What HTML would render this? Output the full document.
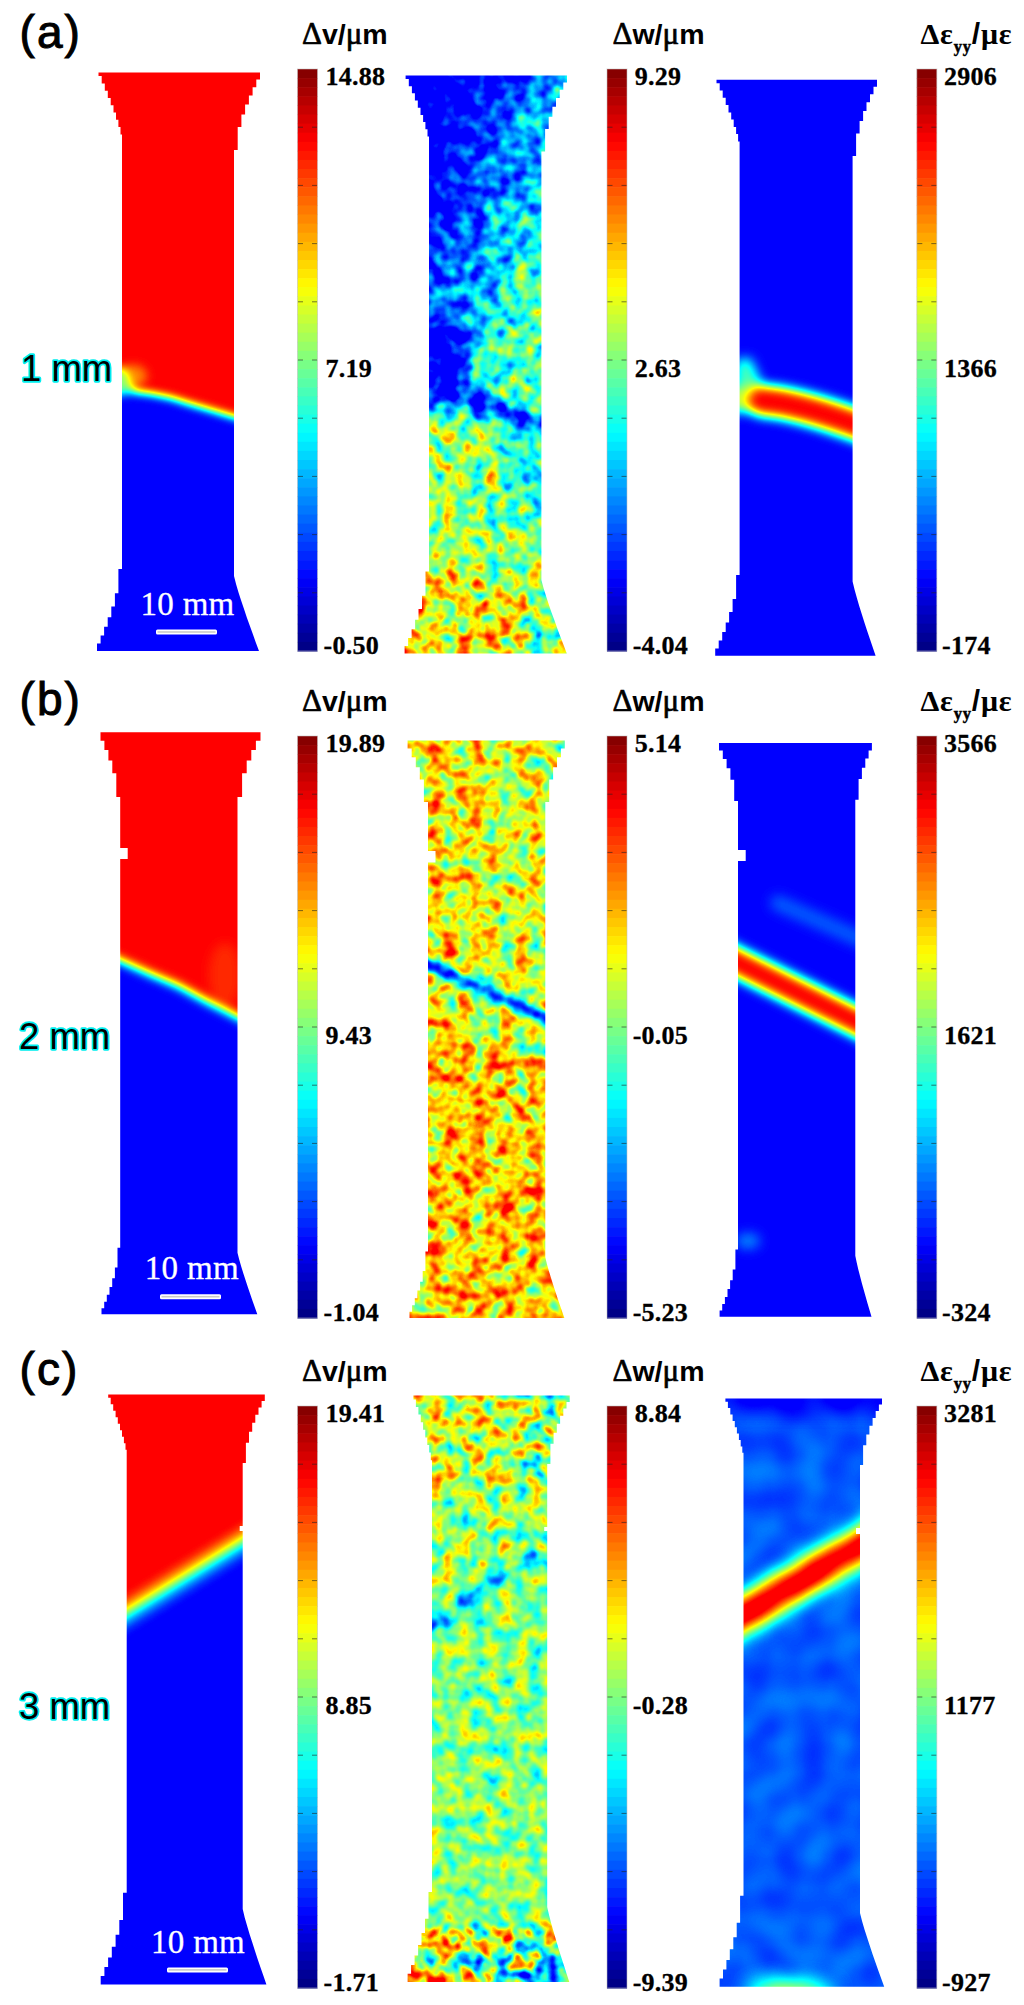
<!DOCTYPE html>
<html lang="en"><head><meta charset="utf-8"><title>Figure</title><style>
html,body{margin:0;padding:0;background:#fff}
svg{display:block}
text{white-space:pre}
.num{font-family:'Liberation Serif',serif;font-weight:bold;font-size:26px;fill:#000;stroke:#000;stroke-width:.3px;letter-spacing:.25px}
.ttl{font-family:'Liberation Sans',sans-serif;font-weight:bold;font-size:28.5px;fill:#000}
.sym{font-family:'Liberation Serif',serif;font-weight:normal;font-size:31px;stroke:#000;stroke-width:.7px}
.tts{font-family:'Liberation Serif',serif;font-weight:bold;font-size:30px;fill:#000;letter-spacing:.8px}
.sub{font-size:16.5px;stroke:#000;stroke-width:.5px}
.sl{font-family:'Liberation Sans',sans-serif}
.pl{font-family:'Liberation Sans',sans-serif;font-size:46px;fill:#000;stroke:#000;stroke-width:1.0px;letter-spacing:2.1px}
.mm{font-family:'Liberation Sans',sans-serif;font-size:36.5px;fill:#000}
.mmg{font-family:'Liberation Sans',sans-serif;font-size:36.5px;fill:#00eeee;stroke:#00eeee;stroke-width:3.4px;stroke-linejoin:round;filter:url(#glow)}
.sb{font-family:'Liberation Serif',serif;font-size:33px;fill:#fff;stroke:#fff;stroke-width:.3px;letter-spacing:.3px}
</style></head>
<body>
<svg width="1024" height="2005" viewBox="0 0 1024 2005">
<rect width="1024" height="2005" fill="#fff"/>
<defs>
<clipPath id="ca1"><polygon points="260,72.5 260,79.6 256.3,79.6 256.3,87.2 252.6,87.2 252.6,95.4 248.9,95.4 248.9,104.4 245.1,104.4 245.1,114.6 241.4,114.6 241.4,127 237.7,127 237.7,150 234,150 234,576 236.1,584.3 238.6,592.7 241.3,601 244.1,609.3 246.9,617.7 249.9,626 252.9,634.3 255.9,642.7 259,651 97,651 97,643.5 100.6,643.5 100.6,635.4 104.1,635.4 104.1,626.8 107.7,626.8 107.7,617.3 111.3,617.3 111.3,606.5 114.9,606.5 114.9,593.3 118.4,593.3 118.4,569 122,569 122,138 122,134.4 120.5,134.4 120.5,130.7 120.5,127.1 118.4,127.1 118.4,123.4 118.4,119.8 116,119.8 116,116.2 116,112.5 113.5,112.5 113.5,108.9 113.5,105.2 110.7,105.2 110.7,101.6 110.7,98 107.8,98 107.8,94.3 107.8,90.7 104.8,90.7 104.8,87.1 104.8,83.4 101.7,83.4 101.7,79.8 101.7,76.1 98.5,76.1 98.5,72.5"/></clipPath>
<filter id="fa1" filterUnits="userSpaceOnUse" x="57" y="32.5" width="243" height="658.5" color-interpolation-filters="sRGB"><feGaussianBlur in="SourceGraphic" stdDeviation="4.8" result="b"/><feComponentTransfer in="b"><feFuncR type="table" tableValues="0 0 0 0 .5 1 1 1 1"/><feFuncG type="table" tableValues="0 0 .5 1 1 1 .5 0 0"/><feFuncB type="table" tableValues="1 1 1 1 .5 0 0 0 0"/></feComponentTransfer></filter>
<linearGradient id="ga2" gradientUnits="userSpaceOnUse" x1="445" y1="100" x2="602.4" y2="163"><stop offset="0" stop-color="rgb(10,128,0)"/><stop offset="1" stop-color="rgb(125,217,0)"/></linearGradient>
<clipPath id="ca2"><polygon points="567,75.4 567,82.4 563.3,82.4 563.3,89.8 559.7,89.8 559.7,97.9 556,97.9 556,106.7 552.4,106.7 552.4,116.7 548.7,116.7 548.7,128.9 545.1,128.9 545.1,151.5 541.4,151.5 541.4,580 543.6,588.2 546.1,596.3 548.8,604.5 551.6,612.7 554.6,620.8 557.5,629 560.6,637.2 563.7,645.3 566.8,653.5 404.6,653.5 404.6,646 408.1,646 408.1,637.9 411.6,637.9 411.6,629.3 415.1,629.3 415.1,619.7 418.5,619.7 418.5,608.9 422,608.9 422,595.7 425.5,595.7 425.5,571.4 429,571.4 429,140 429,136.4 427.5,136.4 427.5,132.8 427.5,129.2 425.4,129.2 425.4,125.6 425.4,122.1 423.1,122.1 423.1,118.5 423.1,114.9 420.5,114.9 420.5,111.3 420.5,107.7 417.8,107.7 417.8,104.1 417.8,100.5 414.9,100.5 414.9,96.9 414.9,93.3 411.9,93.3 411.9,89.8 411.9,86.2 408.8,86.2 408.8,82.6 408.8,79 405.6,79 405.6,75.4"/></clipPath>
<filter id="fa2" filterUnits="userSpaceOnUse" x="364.6" y="35.4" width="242.4" height="658.1" color-interpolation-filters="sRGB"><feGaussianBlur in="SourceGraphic" stdDeviation="8" result="b"/><feColorMatrix in="b" type="matrix" values="1 0 0 0 0 1 0 0 0 0 1 0 0 0 0 0 0 0 0 1" result="bv"/><feColorMatrix in="b" type="matrix" values="0 1 0 0 0 0 1 0 0 0 0 1 0 0 0 0 0 0 0 1" result="ba"/><feTurbulence type="fractalNoise" baseFrequency="0.07" numOctaves="2" seed="3" result="t"/><feColorMatrix in="t" type="matrix" values="1 0 0 0 0 1 0 0 0 0 1 0 0 0 0 0 0 0 0 1" result="n"/><feComposite in="ba" in2="n" operator="arithmetic" k1="1" k2="-0.5" k3="0" k4="0.5" result="na"/><feComposite in="bv" in2="na" operator="arithmetic" k1="0" k2="1" k3="0.9" k4="-0.45" result="m"/><feComponentTransfer in="m"><feFuncR type="table" tableValues="0 0 0 0 .5 1 1 1 1"/><feFuncG type="table" tableValues="0 0 .5 1 1 1 .5 0 0"/><feFuncB type="table" tableValues="1 1 1 1 .5 0 0 0 0"/></feComponentTransfer></filter>
<clipPath id="ca3"><polygon points="877,79.7 877,86.7 873.5,86.7 873.5,94.2 870,94.2 870,102.2 866.5,102.2 866.5,111.1 863.1,111.1 863.1,121.1 859.6,121.1 859.6,133.4 856.1,133.4 856.1,156 852.6,156 852.6,581.4 854.6,589.7 856.9,597.9 859.3,606.2 861.9,614.5 864.5,622.7 867.2,631 870,639.3 872.8,647.5 875.6,655.8 715.2,655.8 715.2,648.4 718.7,648.4 718.7,640.5 722.2,640.5 722.2,632 725.7,632 725.7,622.6 729.1,622.6 729.1,611.9 732.6,611.9 732.6,598.9 736.1,598.9 736.1,575 739.6,575 739.6,145 739.6,141.4 738.1,141.4 738.1,137.7 738.1,134.1 736.1,134.1 736.1,130.5 736.1,126.9 733.7,126.9 733.7,123.2 733.7,119.6 731.2,119.6 731.2,116 731.2,112.4 728.5,112.4 728.5,108.7 728.5,105.1 725.7,105.1 725.7,101.5 725.7,97.8 722.7,97.8 722.7,94.2 722.7,90.6 719.7,90.6 719.7,87 719.7,83.3 716.5,83.3 716.5,79.7"/></clipPath>
<filter id="fa3" filterUnits="userSpaceOnUse" x="675.2" y="39.7" width="241.8" height="656.1" color-interpolation-filters="sRGB"><feGaussianBlur in="SourceGraphic" stdDeviation="5.6" result="b"/><feComponentTransfer in="b"><feFuncR type="table" tableValues="0 0 0 0 .5 1 1 1 1"/><feFuncG type="table" tableValues="0 0 .5 1 1 1 .5 0 0"/><feFuncB type="table" tableValues="1 1 1 1 .5 0 0 0 0"/></feComponentTransfer></filter>
<clipPath id="cb1"><polygon points="260.5,732.3 260.5,740.7 255.9,740.7 255.9,750 251.3,750 251.3,760.5 246.7,760.5 246.7,773.3 242.1,773.3 242.1,797 237.5,797 237.5,1252.7 239.2,1259.5 241.2,1266.4 243.3,1273.2 245.5,1280.1 247.8,1286.9 250.1,1293.8 252.4,1300.6 254.9,1307.5 257.3,1314.3 101.5,1314.3 101.5,1308.2 104.2,1308.2 104.2,1301.7 106.8,1301.7 106.8,1294.7 109.5,1294.7 109.5,1287 112.2,1287 112.2,1278.2 114.9,1278.2 114.9,1267.5 117.5,1267.5 117.5,1247.8 120.2,1247.8 120.2,859 127.7,859 127.7,848 120.2,848 120.2,797 116.3,797 116.3,773.3 112.3,773.3 112.3,760.5 108.4,760.5 108.4,750 104.4,750 104.4,740.7 100.5,740.7 100.5,732.3"/></clipPath>
<filter id="fb1" filterUnits="userSpaceOnUse" x="60.5" y="692.3" width="240" height="662" color-interpolation-filters="sRGB"><feGaussianBlur in="SourceGraphic" stdDeviation="5.2" result="b"/><feComponentTransfer in="b"><feFuncR type="table" tableValues="0 0 0 0 .5 1 1 1 1"/><feFuncG type="table" tableValues="0 0 .5 1 1 1 .5 0 0"/><feFuncB type="table" tableValues="1 1 1 1 .5 0 0 0 0"/></feComponentTransfer></filter>
<clipPath id="cb2"><polygon points="564.8,740.5 564.8,748.5 560.9,748.5 560.9,757.3 557,757.3 557,767.3 553.1,767.3 553.1,779.5 549.2,779.5 549.2,802 545.3,802 545.3,1257.3 546.9,1264 548.8,1270.8 550.9,1277.5 553,1284.2 555.2,1291 557.4,1297.7 559.7,1304.4 562,1311.2 564.4,1317.9 409.5,1317.9 409.5,1311.8 412.1,1311.8 412.1,1305.3 414.8,1305.3 414.8,1298.3 417.4,1298.3 417.4,1290.6 420.1,1290.6 420.1,1281.8 422.7,1281.8 422.7,1271.1 425.4,1271.1 425.4,1251.4 428,1251.4 428,862.5 435.5,862.5 435.5,851 428,851 428,802 423.9,802 423.9,779.5 419.8,779.5 419.8,767.3 415.8,767.3 415.8,757.3 411.7,757.3 411.7,748.5 407.6,748.5 407.6,740.5"/></clipPath>
<filter id="fb2" filterUnits="userSpaceOnUse" x="367.6" y="700.5" width="237.2" height="657.4" color-interpolation-filters="sRGB"><feGaussianBlur in="SourceGraphic" stdDeviation="4" result="b"/><feColorMatrix in="b" type="matrix" values="1 0 0 0 0 1 0 0 0 0 1 0 0 0 0 0 0 0 0 1" result="bv"/><feColorMatrix in="b" type="matrix" values="0 1 0 0 0 0 1 0 0 0 0 1 0 0 0 0 0 0 0 1" result="ba"/><feTurbulence type="fractalNoise" baseFrequency="0.07" numOctaves="2" seed="11" result="t"/><feColorMatrix in="t" type="matrix" values="1 0 0 0 0 1 0 0 0 0 1 0 0 0 0 0 0 0 0 1" result="n"/><feComposite in="ba" in2="n" operator="arithmetic" k1="1" k2="-0.5" k3="0" k4="0.5" result="na"/><feComposite in="bv" in2="na" operator="arithmetic" k1="0" k2="1" k3="0.85" k4="-0.425" result="m"/><feComponentTransfer in="m"><feFuncR type="table" tableValues="0 0 0 0 .5 1 1 1 1"/><feFuncG type="table" tableValues="0 0 .5 1 1 1 .5 0 0"/><feFuncB type="table" tableValues="1 1 1 1 .5 0 0 0 0"/></feComponentTransfer></filter>
<clipPath id="cb3"><polygon points="871.9,743 871.9,750.4 868.6,750.4 868.6,758.5 865.3,758.5 865.3,767.7 861.9,767.7 861.9,779 858.6,779 858.6,799.7 855.3,799.7 855.3,1255.8 856.7,1262.6 858.3,1269.4 860,1276.1 861.8,1282.9 863.7,1289.7 865.6,1296.5 867.5,1303.2 869.5,1310 871.5,1316.8 719.6,1316.8 719.6,1310.6 722.2,1310.6 722.2,1304 724.9,1304 724.9,1296.9 727.5,1296.9 727.5,1289.1 730.1,1289.1 730.1,1280.2 732.7,1280.2 732.7,1269.4 735.4,1269.4 735.4,1249.4 738,1249.4 738,861 745.7,861 745.7,850 738,850 738,801 734.2,801 734.2,779.8 730.4,779.8 730.4,768.3 726.6,768.3 726.6,758.9 722.8,758.9 722.8,750.6 719,750.6 719,743"/></clipPath>
<filter id="fb3" filterUnits="userSpaceOnUse" x="679" y="703" width="232.9" height="653.8" color-interpolation-filters="sRGB"><feGaussianBlur in="SourceGraphic" stdDeviation="5.6" result="b"/><feComponentTransfer in="b"><feFuncR type="table" tableValues="0 0 0 0 .5 1 1 1 1"/><feFuncG type="table" tableValues="0 0 .5 1 1 1 .5 0 0"/><feFuncB type="table" tableValues="1 1 1 1 .5 0 0 0 0"/></feComponentTransfer></filter>
<linearGradient id="gc1" gradientUnits="userSpaceOnUse" x1="116.5" y1="1596.2" x2="137.5" y2="1630.2"><stop offset="0" stop-color="rgb(223,223,223)"/><stop offset="0.15" stop-color="rgb(212,212,212)"/><stop offset="0.3" stop-color="rgb(186,186,186)"/><stop offset="0.42" stop-color="rgb(153,153,153)"/><stop offset="0.5" stop-color="rgb(128,128,128)"/><stop offset="0.58" stop-color="rgb(102,102,102)"/><stop offset="0.7" stop-color="rgb(69,69,69)"/><stop offset="0.85" stop-color="rgb(43,43,43)"/><stop offset="1" stop-color="rgb(32,32,32)"/></linearGradient>
<clipPath id="cc1"><polygon points="264.8,1394.6 264.8,1400.9 261.6,1400.9 261.6,1407.6 258.5,1407.6 258.5,1414.8 255.3,1414.8 255.3,1422.7 252.2,1422.7 252.2,1431.7 249,1431.7 249,1442.7 245.9,1442.7 245.9,1463 242.7,1463 242.7,1526 239.7,1526 239.7,1531 242.7,1531 242.7,1909 244.7,1917.4 247.1,1925.8 249.6,1934.2 252.3,1942.6 255,1950.9 257.7,1959.3 260.6,1967.7 263.5,1976.1 266.4,1984.5 100.7,1984.5 100.7,1976.1 104.4,1976.1 104.4,1967.1 108.1,1967.1 108.1,1957.4 111.8,1957.4 111.8,1946.8 115.6,1946.8 115.6,1934.7 119.3,1934.7 119.3,1919.9 123,1919.9 123,1892.7 126.7,1892.7 126.7,1453 126.7,1449.8 125.5,1449.8 125.5,1446.5 125.5,1443.3 123.9,1443.3 123.9,1440 123.9,1436.8 122,1436.8 122,1433.5 122,1430.3 120,1430.3 120,1427 120,1423.8 117.8,1423.8 117.8,1420.6 117.8,1417.3 115.6,1417.3 115.6,1414.1 115.6,1410.8 113.2,1410.8 113.2,1407.6 113.2,1404.3 110.7,1404.3 110.7,1401.1 110.7,1397.8 108.2,1397.8 108.2,1394.6"/></clipPath>
<filter id="fc1" filterUnits="userSpaceOnUse" x="60.7" y="1354.6" width="245.7" height="669.9" color-interpolation-filters="sRGB"><feGaussianBlur in="SourceGraphic" stdDeviation="1.8" result="b"/><feComponentTransfer in="b"><feFuncR type="table" tableValues="0 0 0 0 .5 1 1 1 1"/><feFuncG type="table" tableValues="0 0 .5 1 1 1 .5 0 0"/><feFuncB type="table" tableValues="1 1 1 1 .5 0 0 0 0"/></feComponentTransfer></filter>
<clipPath id="cc2"><polygon points="569.7,1395.6 569.7,1401.9 566.5,1401.9 566.5,1408.6 563.3,1408.6 563.3,1415.8 560.1,1415.8 560.1,1423.7 556.8,1423.7 556.8,1432.7 553.6,1432.7 553.6,1443.7 550.4,1443.7 550.4,1464 547.2,1464 547.2,1527 544.2,1527 544.2,1531 547.2,1531 547.2,1907 549.1,1915.3 551.3,1923.7 553.7,1932 556.1,1940.3 558.6,1948.7 561.2,1957 563.9,1965.3 566.6,1973.7 569.3,1982 407.6,1982 407.6,1973.7 411.1,1973.7 411.1,1964.9 414.6,1964.9 414.6,1955.4 418.1,1955.4 418.1,1945 421.5,1945 421.5,1933.1 425,1933.1 425,1918.7 428.5,1918.7 428.5,1892 432,1892 432,1464 432,1460.2 430.8,1460.2 430.8,1456.4 430.8,1452.6 429.2,1452.6 429.2,1448.8 429.2,1445 427.3,1445 427.3,1441.2 427.3,1437.4 425.3,1437.4 425.3,1433.6 425.3,1429.8 423.1,1429.8 423.1,1426 423.1,1422.2 420.8,1422.2 420.8,1418.4 420.8,1414.6 418.4,1414.6 418.4,1410.8 418.4,1407 415.9,1407 415.9,1403.2 415.9,1399.4 413.4,1399.4 413.4,1395.6"/></clipPath>
<filter id="fc2" filterUnits="userSpaceOnUse" x="367.6" y="1355.6" width="242.1" height="666.4" color-interpolation-filters="sRGB"><feGaussianBlur in="SourceGraphic" stdDeviation="4" result="b"/><feColorMatrix in="b" type="matrix" values="1 0 0 0 0 1 0 0 0 0 1 0 0 0 0 0 0 0 0 1" result="bv"/><feColorMatrix in="b" type="matrix" values="0 1 0 0 0 0 1 0 0 0 0 1 0 0 0 0 0 0 0 1" result="ba"/><feTurbulence type="fractalNoise" baseFrequency="0.07" numOctaves="2" seed="23" result="t"/><feColorMatrix in="t" type="matrix" values="1 0 0 0 0 1 0 0 0 0 1 0 0 0 0 0 0 0 0 1" result="n"/><feComposite in="ba" in2="n" operator="arithmetic" k1="1" k2="-0.5" k3="0" k4="0.5" result="na"/><feComposite in="bv" in2="na" operator="arithmetic" k1="0" k2="1" k3="1.2" k4="-0.6" result="m"/><feComponentTransfer in="m"><feFuncR type="table" tableValues="0 0 0 0 .5 1 1 1 1"/><feFuncG type="table" tableValues="0 0 .5 1 1 1 .5 0 0"/><feFuncB type="table" tableValues="1 1 1 1 .5 0 0 0 0"/></feComponentTransfer></filter>
<clipPath id="cc3"><polygon points="882,1398.5 882,1404.6 878.9,1404.6 878.9,1411.1 875.7,1411.1 875.7,1418.1 872.6,1418.1 872.6,1425.8 869.4,1425.8 869.4,1434.6 866.3,1434.6 866.3,1445.3 863.1,1445.3 863.1,1465 860,1465 860,1528 856,1528 856,1534 860,1534 860,1913 862.1,1921.2 864.5,1929.4 867.1,1937.6 869.8,1945.8 872.5,1954 875.4,1962.2 878.3,1970.4 881.2,1978.6 884.2,1986.8 719.6,1986.8 719.6,1978.4 723,1978.4 723,1969.5 726.4,1969.5 726.4,1959.9 729.8,1959.9 729.8,1949.3 733.3,1949.3 733.3,1937.3 736.7,1937.3 736.7,1922.7 740.1,1922.7 740.1,1895.7 743.5,1895.7 743.5,1456 743.5,1452.8 742.3,1452.8 742.3,1449.6 742.3,1446.4 740.7,1446.4 740.7,1443.2 740.7,1440 738.9,1440 738.9,1436.8 738.9,1433.6 736.9,1433.6 736.9,1430.4 736.9,1427.2 734.8,1427.2 734.8,1424.1 734.8,1420.9 732.6,1420.9 732.6,1417.7 732.6,1414.5 730.3,1414.5 730.3,1411.3 730.3,1408.1 727.9,1408.1 727.9,1404.9 727.9,1401.7 725.4,1401.7 725.4,1398.5"/></clipPath>
<filter id="fc3" filterUnits="userSpaceOnUse" x="679.6" y="1358.5" width="244.6" height="668.3" color-interpolation-filters="sRGB"><feGaussianBlur in="SourceGraphic" stdDeviation="10" result="b"/><feColorMatrix in="b" type="matrix" values="1 0 0 0 0 1 0 0 0 0 1 0 0 0 0 0 0 0 0 1" result="bv"/><feColorMatrix in="b" type="matrix" values="0 1 0 0 0 0 1 0 0 0 0 1 0 0 0 0 0 0 0 1" result="ba"/><feTurbulence type="fractalNoise" baseFrequency="0.035" numOctaves="1" seed="5" result="t"/><feColorMatrix in="t" type="matrix" values="1 0 0 0 0 1 0 0 0 0 1 0 0 0 0 0 0 0 0 1" result="n"/><feComposite in="ba" in2="n" operator="arithmetic" k1="1" k2="-0.5" k3="0" k4="0.5" result="na"/><feComposite in="bv" in2="na" operator="arithmetic" k1="0" k2="1" k3="0.14" k4="-0.07" result="m"/><feComponentTransfer in="m"><feFuncR type="table" tableValues="0 0 0 0 .5 1 1 1 1"/><feFuncG type="table" tableValues="0 0 .5 1 1 1 .5 0 0"/><feFuncB type="table" tableValues="1 1 1 1 .5 0 0 0 0"/></feComponentTransfer></filter>
<filter id="glow" x="-10%" y="-30%" width="120%" height="160%"><feGaussianBlur stdDeviation="0.55"/></filter>
</defs>
<g clip-path="url(#ca1)"><g filter="url(#fa1)"><rect x="57" y="32.5" width="243" height="658.5" fill="rgb(32,32,32)"/><path d="M40 20H300V437L234 417L190 404L170 397.7L150 393.8L130 391.4L122 386L90 372Z" fill="rgb(223,223,223)"/><ellipse cx="133" cy="376" rx="14" ry="11" fill="rgb(189,189,189)"/><path d="M100 366L125 369L134 392L100 398Z" fill="rgb(128,128,128)"/></g></g>
<g clip-path="url(#ca2)"><g filter="url(#fa2)"><rect x="364.6" y="35.4" width="242.4" height="658.1" fill="rgb(128,204,0)"/><path d="M360 30H610V450L360 395Z" fill="url(#ga2)"/><ellipse cx="446" cy="352" rx="22" ry="38" fill="rgb(20,153,0)"/><path d="M360 405L610 450V570H360Z" fill="rgb(133,204,0)"/><path d="M495 440L610 455V530H515Z" fill="rgb(102,204,0)"/><path d="M405 385L470 398L555 430" stroke="rgb(10,178,0)" stroke-width="17" fill="none"/><path d="M360 545L610 610V700H360Z" fill="rgb(162,255,0)"/><path d="M528 590H610V700H500Z" fill="rgb(128,255,0)"/></g></g>
<g clip-path="url(#ca3)"><g filter="url(#fa3)"><rect x="675.2" y="39.7" width="241.8" height="656.1" fill="rgb(32,32,32)"/><path d="M736 360L750 358L764 388L736 394Z" fill="rgb(115,115,115)"/><path d="M722 398.5L760 400" stroke="rgb(143,143,143)" stroke-width="25" fill="none"/><path d="M763 400.8Q795 402.5 860 426L900 441" stroke="rgb(223,223,223)" stroke-width="30" stroke-linecap="round" fill="none"/></g></g>
<g clip-path="url(#cb1)"><g filter="url(#fb1)"><rect x="60.5" y="692.3" width="240" height="662" fill="rgb(32,32,32)"/><path d="M40 690H300V1051L237 1016.8L205.7 1001L178.4 986L151 974.4L120.2 960.8L80 943Z" fill="rgb(223,223,223)"/><ellipse cx="225" cy="975" rx="16" ry="32" fill="rgb(213,213,213)"/></g></g>
<g clip-path="url(#cb2)"><g filter="url(#fb2)"><rect x="367.6" y="700.5" width="237.2" height="657.4" fill="rgb(150,217,0)"/><path d="M360 700H480V1000H360Z" fill="rgb(163,230,0)"/><path d="M360 985L610 1095V1360H360Z" fill="rgb(171,242,0)"/><path d="M410 957.5L560 1024.5" stroke="rgb(0,128,0)" stroke-width="9" fill="none"/></g></g>
<g clip-path="url(#cb3)"><g filter="url(#fb3)"><rect x="679" y="703" width="232.9" height="653.8" fill="rgb(32,32,32)"/><path d="M778 903L862 940" stroke="rgb(55,55,55)" stroke-width="16" stroke-linecap="round" fill="none"/><path d="M690 938.6L900 1043.4" stroke="rgb(223,223,223)" stroke-width="27.5" fill="none"/><ellipse cx="748" cy="1241" rx="12" ry="8" fill="rgb(66,66,66)"/></g></g>
<g clip-path="url(#cc1)"><g filter="url(#fc1)"><rect x="60.7" y="1354.6" width="245.7" height="669.9" fill="rgb(32,32,32)"/><rect x="40" y="1340" width="280" height="700" fill="url(#gc1)"/></g></g>
<g clip-path="url(#cc2)"><g filter="url(#fc2)"><rect x="367.6" y="1355.6" width="242.1" height="666.4" fill="rgb(129,112,0)"/><path d="M360 1350H610V1560L360 1580Z" fill="rgb(136,140,0)"/><path d="M360 1350H610V1465L360 1495Z" fill="rgb(150,168,0)"/><path d="M520 1350H610V1480H520Z" fill="rgb(128,191,0)"/><path d="M425 1629L560 1537" stroke="rgb(51,128,0)" stroke-width="13" stroke-dasharray="24 14" fill="none"/><path d="M360 1925H610V2030H360Z" fill="rgb(133,255,0)"/><path d="M360 1935H462V2030H360Z" fill="rgb(173,255,0)"/><path d="M490 1950H610V2030H490Z" fill="rgb(97,255,0)"/><circle cx="418" cy="1975" r="7" fill="rgb(242,153,0)"/><circle cx="440" cy="1948" r="7" fill="rgb(230,153,0)"/><circle cx="463" cy="1958" r="7" fill="rgb(31,153,0)"/><circle cx="470" cy="1978" r="7" fill="rgb(230,153,0)"/><circle cx="452" cy="1968" r="7" fill="rgb(38,153,0)"/><circle cx="500" cy="1978" r="7" fill="rgb(38,153,0)"/><circle cx="520" cy="1962" r="7" fill="rgb(217,153,0)"/><circle cx="545" cy="1975" r="7" fill="rgb(38,153,0)"/><circle cx="560" cy="1978" r="7" fill="rgb(31,153,0)"/><circle cx="484" cy="1946" r="7" fill="rgb(217,153,0)"/><circle cx="535" cy="1940" r="7" fill="rgb(76,153,0)"/><circle cx="428" cy="1958" r="7" fill="rgb(51,153,0)"/></g></g>
<g clip-path="url(#cc3)"><g filter="url(#fc3)"><rect x="679.6" y="1358.5" width="244.6" height="668.3" fill="rgb(54,255,0)"/><rect x="660" y="1350" width="280" height="60" fill="rgb(26,255,0)"/><path d="M692.8 1644L911 1516" stroke="rgb(255,255,0)" stroke-width="32" fill="none"/><ellipse cx="792" cy="1992" rx="42" ry="9" fill="rgb(191,255,0)"/></g></g>
<rect x="297.5" y="69" width="20" height="9.7" fill="rgb(135,0,0)"/><rect x="297.5" y="78.1" width="20" height="9.7" fill="rgb(151,0,0)"/><rect x="297.5" y="87.2" width="20" height="9.7" fill="rgb(167,0,0)"/><rect x="297.5" y="96.3" width="20" height="9.7" fill="rgb(183,0,0)"/><rect x="297.5" y="105.4" width="20" height="9.7" fill="rgb(199,0,0)"/><rect x="297.5" y="114.5" width="20" height="9.7" fill="rgb(215,0,0)"/><rect x="297.5" y="123.6" width="20" height="9.7" fill="rgb(231,0,0)"/><rect x="297.5" y="132.7" width="20" height="9.7" fill="rgb(247,0,0)"/><rect x="297.5" y="141.8" width="20" height="9.7" fill="rgb(255,8,0)"/><rect x="297.5" y="150.8" width="20" height="9.7" fill="rgb(255,24,0)"/><rect x="297.5" y="159.9" width="20" height="9.7" fill="rgb(255,40,0)"/><rect x="297.5" y="169" width="20" height="9.7" fill="rgb(255,56,0)"/><rect x="297.5" y="178.1" width="20" height="9.7" fill="rgb(255,72,0)"/><rect x="297.5" y="187.2" width="20" height="9.7" fill="rgb(255,88,0)"/><rect x="297.5" y="196.3" width="20" height="9.7" fill="rgb(255,104,0)"/><rect x="297.5" y="205.4" width="20" height="9.7" fill="rgb(255,120,0)"/><rect x="297.5" y="214.5" width="20" height="9.7" fill="rgb(255,135,0)"/><rect x="297.5" y="223.6" width="20" height="9.7" fill="rgb(255,151,0)"/><rect x="297.5" y="232.7" width="20" height="9.7" fill="rgb(255,167,0)"/><rect x="297.5" y="241.8" width="20" height="9.7" fill="rgb(255,183,0)"/><rect x="297.5" y="250.9" width="20" height="9.7" fill="rgb(255,199,0)"/><rect x="297.5" y="260" width="20" height="9.7" fill="rgb(255,215,0)"/><rect x="297.5" y="269.1" width="20" height="9.7" fill="rgb(255,231,0)"/><rect x="297.5" y="278.2" width="20" height="9.7" fill="rgb(255,247,0)"/><rect x="297.5" y="287.2" width="20" height="9.7" fill="rgb(247,255,8)"/><rect x="297.5" y="296.3" width="20" height="9.7" fill="rgb(231,255,24)"/><rect x="297.5" y="305.4" width="20" height="9.7" fill="rgb(215,255,40)"/><rect x="297.5" y="314.5" width="20" height="9.7" fill="rgb(199,255,56)"/><rect x="297.5" y="323.6" width="20" height="9.7" fill="rgb(183,255,72)"/><rect x="297.5" y="332.7" width="20" height="9.7" fill="rgb(167,255,88)"/><rect x="297.5" y="341.8" width="20" height="9.7" fill="rgb(151,255,104)"/><rect x="297.5" y="350.9" width="20" height="9.7" fill="rgb(135,255,120)"/><rect x="297.5" y="360" width="20" height="9.7" fill="rgb(120,255,135)"/><rect x="297.5" y="369.1" width="20" height="9.7" fill="rgb(104,255,151)"/><rect x="297.5" y="378.2" width="20" height="9.7" fill="rgb(88,255,167)"/><rect x="297.5" y="387.3" width="20" height="9.7" fill="rgb(72,255,183)"/><rect x="297.5" y="396.4" width="20" height="9.7" fill="rgb(56,255,199)"/><rect x="297.5" y="405.5" width="20" height="9.7" fill="rgb(40,255,215)"/><rect x="297.5" y="414.6" width="20" height="9.7" fill="rgb(24,255,231)"/><rect x="297.5" y="423.7" width="20" height="9.7" fill="rgb(8,255,247)"/><rect x="297.5" y="432.8" width="20" height="9.7" fill="rgb(0,247,255)"/><rect x="297.5" y="441.8" width="20" height="9.7" fill="rgb(0,231,255)"/><rect x="297.5" y="450.9" width="20" height="9.7" fill="rgb(0,215,255)"/><rect x="297.5" y="460" width="20" height="9.7" fill="rgb(0,199,255)"/><rect x="297.5" y="469.1" width="20" height="9.7" fill="rgb(0,183,255)"/><rect x="297.5" y="478.2" width="20" height="9.7" fill="rgb(0,167,255)"/><rect x="297.5" y="487.3" width="20" height="9.7" fill="rgb(0,151,255)"/><rect x="297.5" y="496.4" width="20" height="9.7" fill="rgb(0,135,255)"/><rect x="297.5" y="505.5" width="20" height="9.7" fill="rgb(0,120,255)"/><rect x="297.5" y="514.6" width="20" height="9.7" fill="rgb(0,104,255)"/><rect x="297.5" y="523.7" width="20" height="9.7" fill="rgb(0,88,255)"/><rect x="297.5" y="532.8" width="20" height="9.7" fill="rgb(0,72,255)"/><rect x="297.5" y="541.9" width="20" height="9.7" fill="rgb(0,56,255)"/><rect x="297.5" y="551" width="20" height="9.7" fill="rgb(0,40,255)"/><rect x="297.5" y="560.1" width="20" height="9.7" fill="rgb(0,24,255)"/><rect x="297.5" y="569.2" width="20" height="9.7" fill="rgb(0,8,255)"/><rect x="297.5" y="578.2" width="20" height="9.7" fill="rgb(0,0,247)"/><rect x="297.5" y="587.3" width="20" height="9.7" fill="rgb(0,0,231)"/><rect x="297.5" y="596.4" width="20" height="9.7" fill="rgb(0,0,215)"/><rect x="297.5" y="605.5" width="20" height="9.7" fill="rgb(0,0,199)"/><rect x="297.5" y="614.6" width="20" height="9.7" fill="rgb(0,0,183)"/><rect x="297.5" y="623.7" width="20" height="9.7" fill="rgb(0,0,167)"/><rect x="297.5" y="632.8" width="20" height="9.7" fill="rgb(0,0,151)"/><rect x="297.5" y="641.9" width="20" height="9.7" fill="rgb(0,0,135)"/><rect x="297.5" y="69" width="20" height="582" fill="none" stroke="#bdbdbd" stroke-width="1" stroke-opacity=".55"/><path d="M298 127.2h5M317 127.2h-5" stroke="#222" stroke-opacity=".6" stroke-width="1" fill="none"/><path d="M298 185.4h5M317 185.4h-5" stroke="#222" stroke-opacity=".6" stroke-width="1" fill="none"/><path d="M298 243.6h5M317 243.6h-5" stroke="#222" stroke-opacity=".6" stroke-width="1" fill="none"/><path d="M298 301.8h5M317 301.8h-5" stroke="#222" stroke-opacity=".6" stroke-width="1" fill="none"/><path d="M298 360h5M317 360h-5" stroke="#222" stroke-opacity=".6" stroke-width="1" fill="none"/><path d="M298 418.2h5M317 418.2h-5" stroke="#222" stroke-opacity=".6" stroke-width="1" fill="none"/><path d="M298 476.4h5M317 476.4h-5" stroke="#222" stroke-opacity=".6" stroke-width="1" fill="none"/><path d="M298 534.6h5M317 534.6h-5" stroke="#222" stroke-opacity=".6" stroke-width="1" fill="none"/><path d="M298 592.8h5M317 592.8h-5" stroke="#222" stroke-opacity=".6" stroke-width="1" fill="none"/>
<rect x="607" y="69" width="20" height="9.7" fill="rgb(135,0,0)"/><rect x="607" y="78.1" width="20" height="9.7" fill="rgb(151,0,0)"/><rect x="607" y="87.2" width="20" height="9.7" fill="rgb(167,0,0)"/><rect x="607" y="96.3" width="20" height="9.7" fill="rgb(183,0,0)"/><rect x="607" y="105.4" width="20" height="9.7" fill="rgb(199,0,0)"/><rect x="607" y="114.5" width="20" height="9.7" fill="rgb(215,0,0)"/><rect x="607" y="123.6" width="20" height="9.7" fill="rgb(231,0,0)"/><rect x="607" y="132.7" width="20" height="9.7" fill="rgb(247,0,0)"/><rect x="607" y="141.8" width="20" height="9.7" fill="rgb(255,8,0)"/><rect x="607" y="150.8" width="20" height="9.7" fill="rgb(255,24,0)"/><rect x="607" y="159.9" width="20" height="9.7" fill="rgb(255,40,0)"/><rect x="607" y="169" width="20" height="9.7" fill="rgb(255,56,0)"/><rect x="607" y="178.1" width="20" height="9.7" fill="rgb(255,72,0)"/><rect x="607" y="187.2" width="20" height="9.7" fill="rgb(255,88,0)"/><rect x="607" y="196.3" width="20" height="9.7" fill="rgb(255,104,0)"/><rect x="607" y="205.4" width="20" height="9.7" fill="rgb(255,120,0)"/><rect x="607" y="214.5" width="20" height="9.7" fill="rgb(255,135,0)"/><rect x="607" y="223.6" width="20" height="9.7" fill="rgb(255,151,0)"/><rect x="607" y="232.7" width="20" height="9.7" fill="rgb(255,167,0)"/><rect x="607" y="241.8" width="20" height="9.7" fill="rgb(255,183,0)"/><rect x="607" y="250.9" width="20" height="9.7" fill="rgb(255,199,0)"/><rect x="607" y="260" width="20" height="9.7" fill="rgb(255,215,0)"/><rect x="607" y="269.1" width="20" height="9.7" fill="rgb(255,231,0)"/><rect x="607" y="278.2" width="20" height="9.7" fill="rgb(255,247,0)"/><rect x="607" y="287.2" width="20" height="9.7" fill="rgb(247,255,8)"/><rect x="607" y="296.3" width="20" height="9.7" fill="rgb(231,255,24)"/><rect x="607" y="305.4" width="20" height="9.7" fill="rgb(215,255,40)"/><rect x="607" y="314.5" width="20" height="9.7" fill="rgb(199,255,56)"/><rect x="607" y="323.6" width="20" height="9.7" fill="rgb(183,255,72)"/><rect x="607" y="332.7" width="20" height="9.7" fill="rgb(167,255,88)"/><rect x="607" y="341.8" width="20" height="9.7" fill="rgb(151,255,104)"/><rect x="607" y="350.9" width="20" height="9.7" fill="rgb(135,255,120)"/><rect x="607" y="360" width="20" height="9.7" fill="rgb(120,255,135)"/><rect x="607" y="369.1" width="20" height="9.7" fill="rgb(104,255,151)"/><rect x="607" y="378.2" width="20" height="9.7" fill="rgb(88,255,167)"/><rect x="607" y="387.3" width="20" height="9.7" fill="rgb(72,255,183)"/><rect x="607" y="396.4" width="20" height="9.7" fill="rgb(56,255,199)"/><rect x="607" y="405.5" width="20" height="9.7" fill="rgb(40,255,215)"/><rect x="607" y="414.6" width="20" height="9.7" fill="rgb(24,255,231)"/><rect x="607" y="423.7" width="20" height="9.7" fill="rgb(8,255,247)"/><rect x="607" y="432.8" width="20" height="9.7" fill="rgb(0,247,255)"/><rect x="607" y="441.8" width="20" height="9.7" fill="rgb(0,231,255)"/><rect x="607" y="450.9" width="20" height="9.7" fill="rgb(0,215,255)"/><rect x="607" y="460" width="20" height="9.7" fill="rgb(0,199,255)"/><rect x="607" y="469.1" width="20" height="9.7" fill="rgb(0,183,255)"/><rect x="607" y="478.2" width="20" height="9.7" fill="rgb(0,167,255)"/><rect x="607" y="487.3" width="20" height="9.7" fill="rgb(0,151,255)"/><rect x="607" y="496.4" width="20" height="9.7" fill="rgb(0,135,255)"/><rect x="607" y="505.5" width="20" height="9.7" fill="rgb(0,120,255)"/><rect x="607" y="514.6" width="20" height="9.7" fill="rgb(0,104,255)"/><rect x="607" y="523.7" width="20" height="9.7" fill="rgb(0,88,255)"/><rect x="607" y="532.8" width="20" height="9.7" fill="rgb(0,72,255)"/><rect x="607" y="541.9" width="20" height="9.7" fill="rgb(0,56,255)"/><rect x="607" y="551" width="20" height="9.7" fill="rgb(0,40,255)"/><rect x="607" y="560.1" width="20" height="9.7" fill="rgb(0,24,255)"/><rect x="607" y="569.2" width="20" height="9.7" fill="rgb(0,8,255)"/><rect x="607" y="578.2" width="20" height="9.7" fill="rgb(0,0,247)"/><rect x="607" y="587.3" width="20" height="9.7" fill="rgb(0,0,231)"/><rect x="607" y="596.4" width="20" height="9.7" fill="rgb(0,0,215)"/><rect x="607" y="605.5" width="20" height="9.7" fill="rgb(0,0,199)"/><rect x="607" y="614.6" width="20" height="9.7" fill="rgb(0,0,183)"/><rect x="607" y="623.7" width="20" height="9.7" fill="rgb(0,0,167)"/><rect x="607" y="632.8" width="20" height="9.7" fill="rgb(0,0,151)"/><rect x="607" y="641.9" width="20" height="9.7" fill="rgb(0,0,135)"/><rect x="607" y="69" width="20" height="582" fill="none" stroke="#bdbdbd" stroke-width="1" stroke-opacity=".55"/><path d="M607.5 127.2h5M626.5 127.2h-5" stroke="#222" stroke-opacity=".6" stroke-width="1" fill="none"/><path d="M607.5 185.4h5M626.5 185.4h-5" stroke="#222" stroke-opacity=".6" stroke-width="1" fill="none"/><path d="M607.5 243.6h5M626.5 243.6h-5" stroke="#222" stroke-opacity=".6" stroke-width="1" fill="none"/><path d="M607.5 301.8h5M626.5 301.8h-5" stroke="#222" stroke-opacity=".6" stroke-width="1" fill="none"/><path d="M607.5 360h5M626.5 360h-5" stroke="#222" stroke-opacity=".6" stroke-width="1" fill="none"/><path d="M607.5 418.2h5M626.5 418.2h-5" stroke="#222" stroke-opacity=".6" stroke-width="1" fill="none"/><path d="M607.5 476.4h5M626.5 476.4h-5" stroke="#222" stroke-opacity=".6" stroke-width="1" fill="none"/><path d="M607.5 534.6h5M626.5 534.6h-5" stroke="#222" stroke-opacity=".6" stroke-width="1" fill="none"/><path d="M607.5 592.8h5M626.5 592.8h-5" stroke="#222" stroke-opacity=".6" stroke-width="1" fill="none"/>
<rect x="916.8" y="69" width="20" height="9.7" fill="rgb(135,0,0)"/><rect x="916.8" y="78.1" width="20" height="9.7" fill="rgb(151,0,0)"/><rect x="916.8" y="87.2" width="20" height="9.7" fill="rgb(167,0,0)"/><rect x="916.8" y="96.3" width="20" height="9.7" fill="rgb(183,0,0)"/><rect x="916.8" y="105.4" width="20" height="9.7" fill="rgb(199,0,0)"/><rect x="916.8" y="114.5" width="20" height="9.7" fill="rgb(215,0,0)"/><rect x="916.8" y="123.6" width="20" height="9.7" fill="rgb(231,0,0)"/><rect x="916.8" y="132.7" width="20" height="9.7" fill="rgb(247,0,0)"/><rect x="916.8" y="141.8" width="20" height="9.7" fill="rgb(255,8,0)"/><rect x="916.8" y="150.8" width="20" height="9.7" fill="rgb(255,24,0)"/><rect x="916.8" y="159.9" width="20" height="9.7" fill="rgb(255,40,0)"/><rect x="916.8" y="169" width="20" height="9.7" fill="rgb(255,56,0)"/><rect x="916.8" y="178.1" width="20" height="9.7" fill="rgb(255,72,0)"/><rect x="916.8" y="187.2" width="20" height="9.7" fill="rgb(255,88,0)"/><rect x="916.8" y="196.3" width="20" height="9.7" fill="rgb(255,104,0)"/><rect x="916.8" y="205.4" width="20" height="9.7" fill="rgb(255,120,0)"/><rect x="916.8" y="214.5" width="20" height="9.7" fill="rgb(255,135,0)"/><rect x="916.8" y="223.6" width="20" height="9.7" fill="rgb(255,151,0)"/><rect x="916.8" y="232.7" width="20" height="9.7" fill="rgb(255,167,0)"/><rect x="916.8" y="241.8" width="20" height="9.7" fill="rgb(255,183,0)"/><rect x="916.8" y="250.9" width="20" height="9.7" fill="rgb(255,199,0)"/><rect x="916.8" y="260" width="20" height="9.7" fill="rgb(255,215,0)"/><rect x="916.8" y="269.1" width="20" height="9.7" fill="rgb(255,231,0)"/><rect x="916.8" y="278.2" width="20" height="9.7" fill="rgb(255,247,0)"/><rect x="916.8" y="287.2" width="20" height="9.7" fill="rgb(247,255,8)"/><rect x="916.8" y="296.3" width="20" height="9.7" fill="rgb(231,255,24)"/><rect x="916.8" y="305.4" width="20" height="9.7" fill="rgb(215,255,40)"/><rect x="916.8" y="314.5" width="20" height="9.7" fill="rgb(199,255,56)"/><rect x="916.8" y="323.6" width="20" height="9.7" fill="rgb(183,255,72)"/><rect x="916.8" y="332.7" width="20" height="9.7" fill="rgb(167,255,88)"/><rect x="916.8" y="341.8" width="20" height="9.7" fill="rgb(151,255,104)"/><rect x="916.8" y="350.9" width="20" height="9.7" fill="rgb(135,255,120)"/><rect x="916.8" y="360" width="20" height="9.7" fill="rgb(120,255,135)"/><rect x="916.8" y="369.1" width="20" height="9.7" fill="rgb(104,255,151)"/><rect x="916.8" y="378.2" width="20" height="9.7" fill="rgb(88,255,167)"/><rect x="916.8" y="387.3" width="20" height="9.7" fill="rgb(72,255,183)"/><rect x="916.8" y="396.4" width="20" height="9.7" fill="rgb(56,255,199)"/><rect x="916.8" y="405.5" width="20" height="9.7" fill="rgb(40,255,215)"/><rect x="916.8" y="414.6" width="20" height="9.7" fill="rgb(24,255,231)"/><rect x="916.8" y="423.7" width="20" height="9.7" fill="rgb(8,255,247)"/><rect x="916.8" y="432.8" width="20" height="9.7" fill="rgb(0,247,255)"/><rect x="916.8" y="441.8" width="20" height="9.7" fill="rgb(0,231,255)"/><rect x="916.8" y="450.9" width="20" height="9.7" fill="rgb(0,215,255)"/><rect x="916.8" y="460" width="20" height="9.7" fill="rgb(0,199,255)"/><rect x="916.8" y="469.1" width="20" height="9.7" fill="rgb(0,183,255)"/><rect x="916.8" y="478.2" width="20" height="9.7" fill="rgb(0,167,255)"/><rect x="916.8" y="487.3" width="20" height="9.7" fill="rgb(0,151,255)"/><rect x="916.8" y="496.4" width="20" height="9.7" fill="rgb(0,135,255)"/><rect x="916.8" y="505.5" width="20" height="9.7" fill="rgb(0,120,255)"/><rect x="916.8" y="514.6" width="20" height="9.7" fill="rgb(0,104,255)"/><rect x="916.8" y="523.7" width="20" height="9.7" fill="rgb(0,88,255)"/><rect x="916.8" y="532.8" width="20" height="9.7" fill="rgb(0,72,255)"/><rect x="916.8" y="541.9" width="20" height="9.7" fill="rgb(0,56,255)"/><rect x="916.8" y="551" width="20" height="9.7" fill="rgb(0,40,255)"/><rect x="916.8" y="560.1" width="20" height="9.7" fill="rgb(0,24,255)"/><rect x="916.8" y="569.2" width="20" height="9.7" fill="rgb(0,8,255)"/><rect x="916.8" y="578.2" width="20" height="9.7" fill="rgb(0,0,247)"/><rect x="916.8" y="587.3" width="20" height="9.7" fill="rgb(0,0,231)"/><rect x="916.8" y="596.4" width="20" height="9.7" fill="rgb(0,0,215)"/><rect x="916.8" y="605.5" width="20" height="9.7" fill="rgb(0,0,199)"/><rect x="916.8" y="614.6" width="20" height="9.7" fill="rgb(0,0,183)"/><rect x="916.8" y="623.7" width="20" height="9.7" fill="rgb(0,0,167)"/><rect x="916.8" y="632.8" width="20" height="9.7" fill="rgb(0,0,151)"/><rect x="916.8" y="641.9" width="20" height="9.7" fill="rgb(0,0,135)"/><rect x="916.8" y="69" width="20" height="582" fill="none" stroke="#bdbdbd" stroke-width="1" stroke-opacity=".55"/><path d="M917.3 127.2h5M936.3 127.2h-5" stroke="#222" stroke-opacity=".6" stroke-width="1" fill="none"/><path d="M917.3 185.4h5M936.3 185.4h-5" stroke="#222" stroke-opacity=".6" stroke-width="1" fill="none"/><path d="M917.3 243.6h5M936.3 243.6h-5" stroke="#222" stroke-opacity=".6" stroke-width="1" fill="none"/><path d="M917.3 301.8h5M936.3 301.8h-5" stroke="#222" stroke-opacity=".6" stroke-width="1" fill="none"/><path d="M917.3 360h5M936.3 360h-5" stroke="#222" stroke-opacity=".6" stroke-width="1" fill="none"/><path d="M917.3 418.2h5M936.3 418.2h-5" stroke="#222" stroke-opacity=".6" stroke-width="1" fill="none"/><path d="M917.3 476.4h5M936.3 476.4h-5" stroke="#222" stroke-opacity=".6" stroke-width="1" fill="none"/><path d="M917.3 534.6h5M936.3 534.6h-5" stroke="#222" stroke-opacity=".6" stroke-width="1" fill="none"/><path d="M917.3 592.8h5M936.3 592.8h-5" stroke="#222" stroke-opacity=".6" stroke-width="1" fill="none"/>
<rect x="297.5" y="736" width="20" height="9.7" fill="rgb(135,0,0)"/><rect x="297.5" y="745.1" width="20" height="9.7" fill="rgb(151,0,0)"/><rect x="297.5" y="754.2" width="20" height="9.7" fill="rgb(167,0,0)"/><rect x="297.5" y="763.3" width="20" height="9.7" fill="rgb(183,0,0)"/><rect x="297.5" y="772.4" width="20" height="9.7" fill="rgb(199,0,0)"/><rect x="297.5" y="781.5" width="20" height="9.7" fill="rgb(215,0,0)"/><rect x="297.5" y="790.6" width="20" height="9.7" fill="rgb(231,0,0)"/><rect x="297.5" y="799.7" width="20" height="9.7" fill="rgb(247,0,0)"/><rect x="297.5" y="808.8" width="20" height="9.7" fill="rgb(255,8,0)"/><rect x="297.5" y="817.8" width="20" height="9.7" fill="rgb(255,24,0)"/><rect x="297.5" y="826.9" width="20" height="9.7" fill="rgb(255,40,0)"/><rect x="297.5" y="836" width="20" height="9.7" fill="rgb(255,56,0)"/><rect x="297.5" y="845.1" width="20" height="9.7" fill="rgb(255,72,0)"/><rect x="297.5" y="854.2" width="20" height="9.7" fill="rgb(255,88,0)"/><rect x="297.5" y="863.3" width="20" height="9.7" fill="rgb(255,104,0)"/><rect x="297.5" y="872.4" width="20" height="9.7" fill="rgb(255,120,0)"/><rect x="297.5" y="881.5" width="20" height="9.7" fill="rgb(255,135,0)"/><rect x="297.5" y="890.6" width="20" height="9.7" fill="rgb(255,151,0)"/><rect x="297.5" y="899.7" width="20" height="9.7" fill="rgb(255,167,0)"/><rect x="297.5" y="908.8" width="20" height="9.7" fill="rgb(255,183,0)"/><rect x="297.5" y="917.9" width="20" height="9.7" fill="rgb(255,199,0)"/><rect x="297.5" y="927" width="20" height="9.7" fill="rgb(255,215,0)"/><rect x="297.5" y="936.1" width="20" height="9.7" fill="rgb(255,231,0)"/><rect x="297.5" y="945.2" width="20" height="9.7" fill="rgb(255,247,0)"/><rect x="297.5" y="954.2" width="20" height="9.7" fill="rgb(247,255,8)"/><rect x="297.5" y="963.3" width="20" height="9.7" fill="rgb(231,255,24)"/><rect x="297.5" y="972.4" width="20" height="9.7" fill="rgb(215,255,40)"/><rect x="297.5" y="981.5" width="20" height="9.7" fill="rgb(199,255,56)"/><rect x="297.5" y="990.6" width="20" height="9.7" fill="rgb(183,255,72)"/><rect x="297.5" y="999.7" width="20" height="9.7" fill="rgb(167,255,88)"/><rect x="297.5" y="1008.8" width="20" height="9.7" fill="rgb(151,255,104)"/><rect x="297.5" y="1017.9" width="20" height="9.7" fill="rgb(135,255,120)"/><rect x="297.5" y="1027" width="20" height="9.7" fill="rgb(120,255,135)"/><rect x="297.5" y="1036.1" width="20" height="9.7" fill="rgb(104,255,151)"/><rect x="297.5" y="1045.2" width="20" height="9.7" fill="rgb(88,255,167)"/><rect x="297.5" y="1054.3" width="20" height="9.7" fill="rgb(72,255,183)"/><rect x="297.5" y="1063.4" width="20" height="9.7" fill="rgb(56,255,199)"/><rect x="297.5" y="1072.5" width="20" height="9.7" fill="rgb(40,255,215)"/><rect x="297.5" y="1081.6" width="20" height="9.7" fill="rgb(24,255,231)"/><rect x="297.5" y="1090.7" width="20" height="9.7" fill="rgb(8,255,247)"/><rect x="297.5" y="1099.8" width="20" height="9.7" fill="rgb(0,247,255)"/><rect x="297.5" y="1108.8" width="20" height="9.7" fill="rgb(0,231,255)"/><rect x="297.5" y="1117.9" width="20" height="9.7" fill="rgb(0,215,255)"/><rect x="297.5" y="1127" width="20" height="9.7" fill="rgb(0,199,255)"/><rect x="297.5" y="1136.1" width="20" height="9.7" fill="rgb(0,183,255)"/><rect x="297.5" y="1145.2" width="20" height="9.7" fill="rgb(0,167,255)"/><rect x="297.5" y="1154.3" width="20" height="9.7" fill="rgb(0,151,255)"/><rect x="297.5" y="1163.4" width="20" height="9.7" fill="rgb(0,135,255)"/><rect x="297.5" y="1172.5" width="20" height="9.7" fill="rgb(0,120,255)"/><rect x="297.5" y="1181.6" width="20" height="9.7" fill="rgb(0,104,255)"/><rect x="297.5" y="1190.7" width="20" height="9.7" fill="rgb(0,88,255)"/><rect x="297.5" y="1199.8" width="20" height="9.7" fill="rgb(0,72,255)"/><rect x="297.5" y="1208.9" width="20" height="9.7" fill="rgb(0,56,255)"/><rect x="297.5" y="1218" width="20" height="9.7" fill="rgb(0,40,255)"/><rect x="297.5" y="1227.1" width="20" height="9.7" fill="rgb(0,24,255)"/><rect x="297.5" y="1236.2" width="20" height="9.7" fill="rgb(0,8,255)"/><rect x="297.5" y="1245.2" width="20" height="9.7" fill="rgb(0,0,247)"/><rect x="297.5" y="1254.3" width="20" height="9.7" fill="rgb(0,0,231)"/><rect x="297.5" y="1263.4" width="20" height="9.7" fill="rgb(0,0,215)"/><rect x="297.5" y="1272.5" width="20" height="9.7" fill="rgb(0,0,199)"/><rect x="297.5" y="1281.6" width="20" height="9.7" fill="rgb(0,0,183)"/><rect x="297.5" y="1290.7" width="20" height="9.7" fill="rgb(0,0,167)"/><rect x="297.5" y="1299.8" width="20" height="9.7" fill="rgb(0,0,151)"/><rect x="297.5" y="1308.9" width="20" height="9.7" fill="rgb(0,0,135)"/><rect x="297.5" y="736" width="20" height="582" fill="none" stroke="#bdbdbd" stroke-width="1" stroke-opacity=".55"/><path d="M298 794.2h5M317 794.2h-5" stroke="#222" stroke-opacity=".6" stroke-width="1" fill="none"/><path d="M298 852.4h5M317 852.4h-5" stroke="#222" stroke-opacity=".6" stroke-width="1" fill="none"/><path d="M298 910.6h5M317 910.6h-5" stroke="#222" stroke-opacity=".6" stroke-width="1" fill="none"/><path d="M298 968.8h5M317 968.8h-5" stroke="#222" stroke-opacity=".6" stroke-width="1" fill="none"/><path d="M298 1027h5M317 1027h-5" stroke="#222" stroke-opacity=".6" stroke-width="1" fill="none"/><path d="M298 1085.2h5M317 1085.2h-5" stroke="#222" stroke-opacity=".6" stroke-width="1" fill="none"/><path d="M298 1143.4h5M317 1143.4h-5" stroke="#222" stroke-opacity=".6" stroke-width="1" fill="none"/><path d="M298 1201.6h5M317 1201.6h-5" stroke="#222" stroke-opacity=".6" stroke-width="1" fill="none"/><path d="M298 1259.8h5M317 1259.8h-5" stroke="#222" stroke-opacity=".6" stroke-width="1" fill="none"/>
<rect x="607" y="736" width="20" height="9.7" fill="rgb(135,0,0)"/><rect x="607" y="745.1" width="20" height="9.7" fill="rgb(151,0,0)"/><rect x="607" y="754.2" width="20" height="9.7" fill="rgb(167,0,0)"/><rect x="607" y="763.3" width="20" height="9.7" fill="rgb(183,0,0)"/><rect x="607" y="772.4" width="20" height="9.7" fill="rgb(199,0,0)"/><rect x="607" y="781.5" width="20" height="9.7" fill="rgb(215,0,0)"/><rect x="607" y="790.6" width="20" height="9.7" fill="rgb(231,0,0)"/><rect x="607" y="799.7" width="20" height="9.7" fill="rgb(247,0,0)"/><rect x="607" y="808.8" width="20" height="9.7" fill="rgb(255,8,0)"/><rect x="607" y="817.8" width="20" height="9.7" fill="rgb(255,24,0)"/><rect x="607" y="826.9" width="20" height="9.7" fill="rgb(255,40,0)"/><rect x="607" y="836" width="20" height="9.7" fill="rgb(255,56,0)"/><rect x="607" y="845.1" width="20" height="9.7" fill="rgb(255,72,0)"/><rect x="607" y="854.2" width="20" height="9.7" fill="rgb(255,88,0)"/><rect x="607" y="863.3" width="20" height="9.7" fill="rgb(255,104,0)"/><rect x="607" y="872.4" width="20" height="9.7" fill="rgb(255,120,0)"/><rect x="607" y="881.5" width="20" height="9.7" fill="rgb(255,135,0)"/><rect x="607" y="890.6" width="20" height="9.7" fill="rgb(255,151,0)"/><rect x="607" y="899.7" width="20" height="9.7" fill="rgb(255,167,0)"/><rect x="607" y="908.8" width="20" height="9.7" fill="rgb(255,183,0)"/><rect x="607" y="917.9" width="20" height="9.7" fill="rgb(255,199,0)"/><rect x="607" y="927" width="20" height="9.7" fill="rgb(255,215,0)"/><rect x="607" y="936.1" width="20" height="9.7" fill="rgb(255,231,0)"/><rect x="607" y="945.2" width="20" height="9.7" fill="rgb(255,247,0)"/><rect x="607" y="954.2" width="20" height="9.7" fill="rgb(247,255,8)"/><rect x="607" y="963.3" width="20" height="9.7" fill="rgb(231,255,24)"/><rect x="607" y="972.4" width="20" height="9.7" fill="rgb(215,255,40)"/><rect x="607" y="981.5" width="20" height="9.7" fill="rgb(199,255,56)"/><rect x="607" y="990.6" width="20" height="9.7" fill="rgb(183,255,72)"/><rect x="607" y="999.7" width="20" height="9.7" fill="rgb(167,255,88)"/><rect x="607" y="1008.8" width="20" height="9.7" fill="rgb(151,255,104)"/><rect x="607" y="1017.9" width="20" height="9.7" fill="rgb(135,255,120)"/><rect x="607" y="1027" width="20" height="9.7" fill="rgb(120,255,135)"/><rect x="607" y="1036.1" width="20" height="9.7" fill="rgb(104,255,151)"/><rect x="607" y="1045.2" width="20" height="9.7" fill="rgb(88,255,167)"/><rect x="607" y="1054.3" width="20" height="9.7" fill="rgb(72,255,183)"/><rect x="607" y="1063.4" width="20" height="9.7" fill="rgb(56,255,199)"/><rect x="607" y="1072.5" width="20" height="9.7" fill="rgb(40,255,215)"/><rect x="607" y="1081.6" width="20" height="9.7" fill="rgb(24,255,231)"/><rect x="607" y="1090.7" width="20" height="9.7" fill="rgb(8,255,247)"/><rect x="607" y="1099.8" width="20" height="9.7" fill="rgb(0,247,255)"/><rect x="607" y="1108.8" width="20" height="9.7" fill="rgb(0,231,255)"/><rect x="607" y="1117.9" width="20" height="9.7" fill="rgb(0,215,255)"/><rect x="607" y="1127" width="20" height="9.7" fill="rgb(0,199,255)"/><rect x="607" y="1136.1" width="20" height="9.7" fill="rgb(0,183,255)"/><rect x="607" y="1145.2" width="20" height="9.7" fill="rgb(0,167,255)"/><rect x="607" y="1154.3" width="20" height="9.7" fill="rgb(0,151,255)"/><rect x="607" y="1163.4" width="20" height="9.7" fill="rgb(0,135,255)"/><rect x="607" y="1172.5" width="20" height="9.7" fill="rgb(0,120,255)"/><rect x="607" y="1181.6" width="20" height="9.7" fill="rgb(0,104,255)"/><rect x="607" y="1190.7" width="20" height="9.7" fill="rgb(0,88,255)"/><rect x="607" y="1199.8" width="20" height="9.7" fill="rgb(0,72,255)"/><rect x="607" y="1208.9" width="20" height="9.7" fill="rgb(0,56,255)"/><rect x="607" y="1218" width="20" height="9.7" fill="rgb(0,40,255)"/><rect x="607" y="1227.1" width="20" height="9.7" fill="rgb(0,24,255)"/><rect x="607" y="1236.2" width="20" height="9.7" fill="rgb(0,8,255)"/><rect x="607" y="1245.2" width="20" height="9.7" fill="rgb(0,0,247)"/><rect x="607" y="1254.3" width="20" height="9.7" fill="rgb(0,0,231)"/><rect x="607" y="1263.4" width="20" height="9.7" fill="rgb(0,0,215)"/><rect x="607" y="1272.5" width="20" height="9.7" fill="rgb(0,0,199)"/><rect x="607" y="1281.6" width="20" height="9.7" fill="rgb(0,0,183)"/><rect x="607" y="1290.7" width="20" height="9.7" fill="rgb(0,0,167)"/><rect x="607" y="1299.8" width="20" height="9.7" fill="rgb(0,0,151)"/><rect x="607" y="1308.9" width="20" height="9.7" fill="rgb(0,0,135)"/><rect x="607" y="736" width="20" height="582" fill="none" stroke="#bdbdbd" stroke-width="1" stroke-opacity=".55"/><path d="M607.5 794.2h5M626.5 794.2h-5" stroke="#222" stroke-opacity=".6" stroke-width="1" fill="none"/><path d="M607.5 852.4h5M626.5 852.4h-5" stroke="#222" stroke-opacity=".6" stroke-width="1" fill="none"/><path d="M607.5 910.6h5M626.5 910.6h-5" stroke="#222" stroke-opacity=".6" stroke-width="1" fill="none"/><path d="M607.5 968.8h5M626.5 968.8h-5" stroke="#222" stroke-opacity=".6" stroke-width="1" fill="none"/><path d="M607.5 1027h5M626.5 1027h-5" stroke="#222" stroke-opacity=".6" stroke-width="1" fill="none"/><path d="M607.5 1085.2h5M626.5 1085.2h-5" stroke="#222" stroke-opacity=".6" stroke-width="1" fill="none"/><path d="M607.5 1143.4h5M626.5 1143.4h-5" stroke="#222" stroke-opacity=".6" stroke-width="1" fill="none"/><path d="M607.5 1201.6h5M626.5 1201.6h-5" stroke="#222" stroke-opacity=".6" stroke-width="1" fill="none"/><path d="M607.5 1259.8h5M626.5 1259.8h-5" stroke="#222" stroke-opacity=".6" stroke-width="1" fill="none"/>
<rect x="916.8" y="736" width="20" height="9.7" fill="rgb(135,0,0)"/><rect x="916.8" y="745.1" width="20" height="9.7" fill="rgb(151,0,0)"/><rect x="916.8" y="754.2" width="20" height="9.7" fill="rgb(167,0,0)"/><rect x="916.8" y="763.3" width="20" height="9.7" fill="rgb(183,0,0)"/><rect x="916.8" y="772.4" width="20" height="9.7" fill="rgb(199,0,0)"/><rect x="916.8" y="781.5" width="20" height="9.7" fill="rgb(215,0,0)"/><rect x="916.8" y="790.6" width="20" height="9.7" fill="rgb(231,0,0)"/><rect x="916.8" y="799.7" width="20" height="9.7" fill="rgb(247,0,0)"/><rect x="916.8" y="808.8" width="20" height="9.7" fill="rgb(255,8,0)"/><rect x="916.8" y="817.8" width="20" height="9.7" fill="rgb(255,24,0)"/><rect x="916.8" y="826.9" width="20" height="9.7" fill="rgb(255,40,0)"/><rect x="916.8" y="836" width="20" height="9.7" fill="rgb(255,56,0)"/><rect x="916.8" y="845.1" width="20" height="9.7" fill="rgb(255,72,0)"/><rect x="916.8" y="854.2" width="20" height="9.7" fill="rgb(255,88,0)"/><rect x="916.8" y="863.3" width="20" height="9.7" fill="rgb(255,104,0)"/><rect x="916.8" y="872.4" width="20" height="9.7" fill="rgb(255,120,0)"/><rect x="916.8" y="881.5" width="20" height="9.7" fill="rgb(255,135,0)"/><rect x="916.8" y="890.6" width="20" height="9.7" fill="rgb(255,151,0)"/><rect x="916.8" y="899.7" width="20" height="9.7" fill="rgb(255,167,0)"/><rect x="916.8" y="908.8" width="20" height="9.7" fill="rgb(255,183,0)"/><rect x="916.8" y="917.9" width="20" height="9.7" fill="rgb(255,199,0)"/><rect x="916.8" y="927" width="20" height="9.7" fill="rgb(255,215,0)"/><rect x="916.8" y="936.1" width="20" height="9.7" fill="rgb(255,231,0)"/><rect x="916.8" y="945.2" width="20" height="9.7" fill="rgb(255,247,0)"/><rect x="916.8" y="954.2" width="20" height="9.7" fill="rgb(247,255,8)"/><rect x="916.8" y="963.3" width="20" height="9.7" fill="rgb(231,255,24)"/><rect x="916.8" y="972.4" width="20" height="9.7" fill="rgb(215,255,40)"/><rect x="916.8" y="981.5" width="20" height="9.7" fill="rgb(199,255,56)"/><rect x="916.8" y="990.6" width="20" height="9.7" fill="rgb(183,255,72)"/><rect x="916.8" y="999.7" width="20" height="9.7" fill="rgb(167,255,88)"/><rect x="916.8" y="1008.8" width="20" height="9.7" fill="rgb(151,255,104)"/><rect x="916.8" y="1017.9" width="20" height="9.7" fill="rgb(135,255,120)"/><rect x="916.8" y="1027" width="20" height="9.7" fill="rgb(120,255,135)"/><rect x="916.8" y="1036.1" width="20" height="9.7" fill="rgb(104,255,151)"/><rect x="916.8" y="1045.2" width="20" height="9.7" fill="rgb(88,255,167)"/><rect x="916.8" y="1054.3" width="20" height="9.7" fill="rgb(72,255,183)"/><rect x="916.8" y="1063.4" width="20" height="9.7" fill="rgb(56,255,199)"/><rect x="916.8" y="1072.5" width="20" height="9.7" fill="rgb(40,255,215)"/><rect x="916.8" y="1081.6" width="20" height="9.7" fill="rgb(24,255,231)"/><rect x="916.8" y="1090.7" width="20" height="9.7" fill="rgb(8,255,247)"/><rect x="916.8" y="1099.8" width="20" height="9.7" fill="rgb(0,247,255)"/><rect x="916.8" y="1108.8" width="20" height="9.7" fill="rgb(0,231,255)"/><rect x="916.8" y="1117.9" width="20" height="9.7" fill="rgb(0,215,255)"/><rect x="916.8" y="1127" width="20" height="9.7" fill="rgb(0,199,255)"/><rect x="916.8" y="1136.1" width="20" height="9.7" fill="rgb(0,183,255)"/><rect x="916.8" y="1145.2" width="20" height="9.7" fill="rgb(0,167,255)"/><rect x="916.8" y="1154.3" width="20" height="9.7" fill="rgb(0,151,255)"/><rect x="916.8" y="1163.4" width="20" height="9.7" fill="rgb(0,135,255)"/><rect x="916.8" y="1172.5" width="20" height="9.7" fill="rgb(0,120,255)"/><rect x="916.8" y="1181.6" width="20" height="9.7" fill="rgb(0,104,255)"/><rect x="916.8" y="1190.7" width="20" height="9.7" fill="rgb(0,88,255)"/><rect x="916.8" y="1199.8" width="20" height="9.7" fill="rgb(0,72,255)"/><rect x="916.8" y="1208.9" width="20" height="9.7" fill="rgb(0,56,255)"/><rect x="916.8" y="1218" width="20" height="9.7" fill="rgb(0,40,255)"/><rect x="916.8" y="1227.1" width="20" height="9.7" fill="rgb(0,24,255)"/><rect x="916.8" y="1236.2" width="20" height="9.7" fill="rgb(0,8,255)"/><rect x="916.8" y="1245.2" width="20" height="9.7" fill="rgb(0,0,247)"/><rect x="916.8" y="1254.3" width="20" height="9.7" fill="rgb(0,0,231)"/><rect x="916.8" y="1263.4" width="20" height="9.7" fill="rgb(0,0,215)"/><rect x="916.8" y="1272.5" width="20" height="9.7" fill="rgb(0,0,199)"/><rect x="916.8" y="1281.6" width="20" height="9.7" fill="rgb(0,0,183)"/><rect x="916.8" y="1290.7" width="20" height="9.7" fill="rgb(0,0,167)"/><rect x="916.8" y="1299.8" width="20" height="9.7" fill="rgb(0,0,151)"/><rect x="916.8" y="1308.9" width="20" height="9.7" fill="rgb(0,0,135)"/><rect x="916.8" y="736" width="20" height="582" fill="none" stroke="#bdbdbd" stroke-width="1" stroke-opacity=".55"/><path d="M917.3 794.2h5M936.3 794.2h-5" stroke="#222" stroke-opacity=".6" stroke-width="1" fill="none"/><path d="M917.3 852.4h5M936.3 852.4h-5" stroke="#222" stroke-opacity=".6" stroke-width="1" fill="none"/><path d="M917.3 910.6h5M936.3 910.6h-5" stroke="#222" stroke-opacity=".6" stroke-width="1" fill="none"/><path d="M917.3 968.8h5M936.3 968.8h-5" stroke="#222" stroke-opacity=".6" stroke-width="1" fill="none"/><path d="M917.3 1027h5M936.3 1027h-5" stroke="#222" stroke-opacity=".6" stroke-width="1" fill="none"/><path d="M917.3 1085.2h5M936.3 1085.2h-5" stroke="#222" stroke-opacity=".6" stroke-width="1" fill="none"/><path d="M917.3 1143.4h5M936.3 1143.4h-5" stroke="#222" stroke-opacity=".6" stroke-width="1" fill="none"/><path d="M917.3 1201.6h5M936.3 1201.6h-5" stroke="#222" stroke-opacity=".6" stroke-width="1" fill="none"/><path d="M917.3 1259.8h5M936.3 1259.8h-5" stroke="#222" stroke-opacity=".6" stroke-width="1" fill="none"/>
<rect x="297.5" y="1406" width="20" height="9.7" fill="rgb(135,0,0)"/><rect x="297.5" y="1415.1" width="20" height="9.7" fill="rgb(151,0,0)"/><rect x="297.5" y="1424.2" width="20" height="9.7" fill="rgb(167,0,0)"/><rect x="297.5" y="1433.3" width="20" height="9.7" fill="rgb(183,0,0)"/><rect x="297.5" y="1442.4" width="20" height="9.7" fill="rgb(199,0,0)"/><rect x="297.5" y="1451.5" width="20" height="9.7" fill="rgb(215,0,0)"/><rect x="297.5" y="1460.6" width="20" height="9.7" fill="rgb(231,0,0)"/><rect x="297.5" y="1469.7" width="20" height="9.7" fill="rgb(247,0,0)"/><rect x="297.5" y="1478.8" width="20" height="9.7" fill="rgb(255,8,0)"/><rect x="297.5" y="1487.8" width="20" height="9.7" fill="rgb(255,24,0)"/><rect x="297.5" y="1496.9" width="20" height="9.7" fill="rgb(255,40,0)"/><rect x="297.5" y="1506" width="20" height="9.7" fill="rgb(255,56,0)"/><rect x="297.5" y="1515.1" width="20" height="9.7" fill="rgb(255,72,0)"/><rect x="297.5" y="1524.2" width="20" height="9.7" fill="rgb(255,88,0)"/><rect x="297.5" y="1533.3" width="20" height="9.7" fill="rgb(255,104,0)"/><rect x="297.5" y="1542.4" width="20" height="9.7" fill="rgb(255,120,0)"/><rect x="297.5" y="1551.5" width="20" height="9.7" fill="rgb(255,135,0)"/><rect x="297.5" y="1560.6" width="20" height="9.7" fill="rgb(255,151,0)"/><rect x="297.5" y="1569.7" width="20" height="9.7" fill="rgb(255,167,0)"/><rect x="297.5" y="1578.8" width="20" height="9.7" fill="rgb(255,183,0)"/><rect x="297.5" y="1587.9" width="20" height="9.7" fill="rgb(255,199,0)"/><rect x="297.5" y="1597" width="20" height="9.7" fill="rgb(255,215,0)"/><rect x="297.5" y="1606.1" width="20" height="9.7" fill="rgb(255,231,0)"/><rect x="297.5" y="1615.2" width="20" height="9.7" fill="rgb(255,247,0)"/><rect x="297.5" y="1624.2" width="20" height="9.7" fill="rgb(247,255,8)"/><rect x="297.5" y="1633.3" width="20" height="9.7" fill="rgb(231,255,24)"/><rect x="297.5" y="1642.4" width="20" height="9.7" fill="rgb(215,255,40)"/><rect x="297.5" y="1651.5" width="20" height="9.7" fill="rgb(199,255,56)"/><rect x="297.5" y="1660.6" width="20" height="9.7" fill="rgb(183,255,72)"/><rect x="297.5" y="1669.7" width="20" height="9.7" fill="rgb(167,255,88)"/><rect x="297.5" y="1678.8" width="20" height="9.7" fill="rgb(151,255,104)"/><rect x="297.5" y="1687.9" width="20" height="9.7" fill="rgb(135,255,120)"/><rect x="297.5" y="1697" width="20" height="9.7" fill="rgb(120,255,135)"/><rect x="297.5" y="1706.1" width="20" height="9.7" fill="rgb(104,255,151)"/><rect x="297.5" y="1715.2" width="20" height="9.7" fill="rgb(88,255,167)"/><rect x="297.5" y="1724.3" width="20" height="9.7" fill="rgb(72,255,183)"/><rect x="297.5" y="1733.4" width="20" height="9.7" fill="rgb(56,255,199)"/><rect x="297.5" y="1742.5" width="20" height="9.7" fill="rgb(40,255,215)"/><rect x="297.5" y="1751.6" width="20" height="9.7" fill="rgb(24,255,231)"/><rect x="297.5" y="1760.7" width="20" height="9.7" fill="rgb(8,255,247)"/><rect x="297.5" y="1769.8" width="20" height="9.7" fill="rgb(0,247,255)"/><rect x="297.5" y="1778.8" width="20" height="9.7" fill="rgb(0,231,255)"/><rect x="297.5" y="1787.9" width="20" height="9.7" fill="rgb(0,215,255)"/><rect x="297.5" y="1797" width="20" height="9.7" fill="rgb(0,199,255)"/><rect x="297.5" y="1806.1" width="20" height="9.7" fill="rgb(0,183,255)"/><rect x="297.5" y="1815.2" width="20" height="9.7" fill="rgb(0,167,255)"/><rect x="297.5" y="1824.3" width="20" height="9.7" fill="rgb(0,151,255)"/><rect x="297.5" y="1833.4" width="20" height="9.7" fill="rgb(0,135,255)"/><rect x="297.5" y="1842.5" width="20" height="9.7" fill="rgb(0,120,255)"/><rect x="297.5" y="1851.6" width="20" height="9.7" fill="rgb(0,104,255)"/><rect x="297.5" y="1860.7" width="20" height="9.7" fill="rgb(0,88,255)"/><rect x="297.5" y="1869.8" width="20" height="9.7" fill="rgb(0,72,255)"/><rect x="297.5" y="1878.9" width="20" height="9.7" fill="rgb(0,56,255)"/><rect x="297.5" y="1888" width="20" height="9.7" fill="rgb(0,40,255)"/><rect x="297.5" y="1897.1" width="20" height="9.7" fill="rgb(0,24,255)"/><rect x="297.5" y="1906.2" width="20" height="9.7" fill="rgb(0,8,255)"/><rect x="297.5" y="1915.2" width="20" height="9.7" fill="rgb(0,0,247)"/><rect x="297.5" y="1924.3" width="20" height="9.7" fill="rgb(0,0,231)"/><rect x="297.5" y="1933.4" width="20" height="9.7" fill="rgb(0,0,215)"/><rect x="297.5" y="1942.5" width="20" height="9.7" fill="rgb(0,0,199)"/><rect x="297.5" y="1951.6" width="20" height="9.7" fill="rgb(0,0,183)"/><rect x="297.5" y="1960.7" width="20" height="9.7" fill="rgb(0,0,167)"/><rect x="297.5" y="1969.8" width="20" height="9.7" fill="rgb(0,0,151)"/><rect x="297.5" y="1978.9" width="20" height="9.7" fill="rgb(0,0,135)"/><rect x="297.5" y="1406" width="20" height="582" fill="none" stroke="#bdbdbd" stroke-width="1" stroke-opacity=".55"/><path d="M298 1464.2h5M317 1464.2h-5" stroke="#222" stroke-opacity=".6" stroke-width="1" fill="none"/><path d="M298 1522.4h5M317 1522.4h-5" stroke="#222" stroke-opacity=".6" stroke-width="1" fill="none"/><path d="M298 1580.6h5M317 1580.6h-5" stroke="#222" stroke-opacity=".6" stroke-width="1" fill="none"/><path d="M298 1638.8h5M317 1638.8h-5" stroke="#222" stroke-opacity=".6" stroke-width="1" fill="none"/><path d="M298 1697h5M317 1697h-5" stroke="#222" stroke-opacity=".6" stroke-width="1" fill="none"/><path d="M298 1755.2h5M317 1755.2h-5" stroke="#222" stroke-opacity=".6" stroke-width="1" fill="none"/><path d="M298 1813.4h5M317 1813.4h-5" stroke="#222" stroke-opacity=".6" stroke-width="1" fill="none"/><path d="M298 1871.6h5M317 1871.6h-5" stroke="#222" stroke-opacity=".6" stroke-width="1" fill="none"/><path d="M298 1929.8h5M317 1929.8h-5" stroke="#222" stroke-opacity=".6" stroke-width="1" fill="none"/>
<rect x="607" y="1406" width="20" height="9.7" fill="rgb(135,0,0)"/><rect x="607" y="1415.1" width="20" height="9.7" fill="rgb(151,0,0)"/><rect x="607" y="1424.2" width="20" height="9.7" fill="rgb(167,0,0)"/><rect x="607" y="1433.3" width="20" height="9.7" fill="rgb(183,0,0)"/><rect x="607" y="1442.4" width="20" height="9.7" fill="rgb(199,0,0)"/><rect x="607" y="1451.5" width="20" height="9.7" fill="rgb(215,0,0)"/><rect x="607" y="1460.6" width="20" height="9.7" fill="rgb(231,0,0)"/><rect x="607" y="1469.7" width="20" height="9.7" fill="rgb(247,0,0)"/><rect x="607" y="1478.8" width="20" height="9.7" fill="rgb(255,8,0)"/><rect x="607" y="1487.8" width="20" height="9.7" fill="rgb(255,24,0)"/><rect x="607" y="1496.9" width="20" height="9.7" fill="rgb(255,40,0)"/><rect x="607" y="1506" width="20" height="9.7" fill="rgb(255,56,0)"/><rect x="607" y="1515.1" width="20" height="9.7" fill="rgb(255,72,0)"/><rect x="607" y="1524.2" width="20" height="9.7" fill="rgb(255,88,0)"/><rect x="607" y="1533.3" width="20" height="9.7" fill="rgb(255,104,0)"/><rect x="607" y="1542.4" width="20" height="9.7" fill="rgb(255,120,0)"/><rect x="607" y="1551.5" width="20" height="9.7" fill="rgb(255,135,0)"/><rect x="607" y="1560.6" width="20" height="9.7" fill="rgb(255,151,0)"/><rect x="607" y="1569.7" width="20" height="9.7" fill="rgb(255,167,0)"/><rect x="607" y="1578.8" width="20" height="9.7" fill="rgb(255,183,0)"/><rect x="607" y="1587.9" width="20" height="9.7" fill="rgb(255,199,0)"/><rect x="607" y="1597" width="20" height="9.7" fill="rgb(255,215,0)"/><rect x="607" y="1606.1" width="20" height="9.7" fill="rgb(255,231,0)"/><rect x="607" y="1615.2" width="20" height="9.7" fill="rgb(255,247,0)"/><rect x="607" y="1624.2" width="20" height="9.7" fill="rgb(247,255,8)"/><rect x="607" y="1633.3" width="20" height="9.7" fill="rgb(231,255,24)"/><rect x="607" y="1642.4" width="20" height="9.7" fill="rgb(215,255,40)"/><rect x="607" y="1651.5" width="20" height="9.7" fill="rgb(199,255,56)"/><rect x="607" y="1660.6" width="20" height="9.7" fill="rgb(183,255,72)"/><rect x="607" y="1669.7" width="20" height="9.7" fill="rgb(167,255,88)"/><rect x="607" y="1678.8" width="20" height="9.7" fill="rgb(151,255,104)"/><rect x="607" y="1687.9" width="20" height="9.7" fill="rgb(135,255,120)"/><rect x="607" y="1697" width="20" height="9.7" fill="rgb(120,255,135)"/><rect x="607" y="1706.1" width="20" height="9.7" fill="rgb(104,255,151)"/><rect x="607" y="1715.2" width="20" height="9.7" fill="rgb(88,255,167)"/><rect x="607" y="1724.3" width="20" height="9.7" fill="rgb(72,255,183)"/><rect x="607" y="1733.4" width="20" height="9.7" fill="rgb(56,255,199)"/><rect x="607" y="1742.5" width="20" height="9.7" fill="rgb(40,255,215)"/><rect x="607" y="1751.6" width="20" height="9.7" fill="rgb(24,255,231)"/><rect x="607" y="1760.7" width="20" height="9.7" fill="rgb(8,255,247)"/><rect x="607" y="1769.8" width="20" height="9.7" fill="rgb(0,247,255)"/><rect x="607" y="1778.8" width="20" height="9.7" fill="rgb(0,231,255)"/><rect x="607" y="1787.9" width="20" height="9.7" fill="rgb(0,215,255)"/><rect x="607" y="1797" width="20" height="9.7" fill="rgb(0,199,255)"/><rect x="607" y="1806.1" width="20" height="9.7" fill="rgb(0,183,255)"/><rect x="607" y="1815.2" width="20" height="9.7" fill="rgb(0,167,255)"/><rect x="607" y="1824.3" width="20" height="9.7" fill="rgb(0,151,255)"/><rect x="607" y="1833.4" width="20" height="9.7" fill="rgb(0,135,255)"/><rect x="607" y="1842.5" width="20" height="9.7" fill="rgb(0,120,255)"/><rect x="607" y="1851.6" width="20" height="9.7" fill="rgb(0,104,255)"/><rect x="607" y="1860.7" width="20" height="9.7" fill="rgb(0,88,255)"/><rect x="607" y="1869.8" width="20" height="9.7" fill="rgb(0,72,255)"/><rect x="607" y="1878.9" width="20" height="9.7" fill="rgb(0,56,255)"/><rect x="607" y="1888" width="20" height="9.7" fill="rgb(0,40,255)"/><rect x="607" y="1897.1" width="20" height="9.7" fill="rgb(0,24,255)"/><rect x="607" y="1906.2" width="20" height="9.7" fill="rgb(0,8,255)"/><rect x="607" y="1915.2" width="20" height="9.7" fill="rgb(0,0,247)"/><rect x="607" y="1924.3" width="20" height="9.7" fill="rgb(0,0,231)"/><rect x="607" y="1933.4" width="20" height="9.7" fill="rgb(0,0,215)"/><rect x="607" y="1942.5" width="20" height="9.7" fill="rgb(0,0,199)"/><rect x="607" y="1951.6" width="20" height="9.7" fill="rgb(0,0,183)"/><rect x="607" y="1960.7" width="20" height="9.7" fill="rgb(0,0,167)"/><rect x="607" y="1969.8" width="20" height="9.7" fill="rgb(0,0,151)"/><rect x="607" y="1978.9" width="20" height="9.7" fill="rgb(0,0,135)"/><rect x="607" y="1406" width="20" height="582" fill="none" stroke="#bdbdbd" stroke-width="1" stroke-opacity=".55"/><path d="M607.5 1464.2h5M626.5 1464.2h-5" stroke="#222" stroke-opacity=".6" stroke-width="1" fill="none"/><path d="M607.5 1522.4h5M626.5 1522.4h-5" stroke="#222" stroke-opacity=".6" stroke-width="1" fill="none"/><path d="M607.5 1580.6h5M626.5 1580.6h-5" stroke="#222" stroke-opacity=".6" stroke-width="1" fill="none"/><path d="M607.5 1638.8h5M626.5 1638.8h-5" stroke="#222" stroke-opacity=".6" stroke-width="1" fill="none"/><path d="M607.5 1697h5M626.5 1697h-5" stroke="#222" stroke-opacity=".6" stroke-width="1" fill="none"/><path d="M607.5 1755.2h5M626.5 1755.2h-5" stroke="#222" stroke-opacity=".6" stroke-width="1" fill="none"/><path d="M607.5 1813.4h5M626.5 1813.4h-5" stroke="#222" stroke-opacity=".6" stroke-width="1" fill="none"/><path d="M607.5 1871.6h5M626.5 1871.6h-5" stroke="#222" stroke-opacity=".6" stroke-width="1" fill="none"/><path d="M607.5 1929.8h5M626.5 1929.8h-5" stroke="#222" stroke-opacity=".6" stroke-width="1" fill="none"/>
<rect x="916.8" y="1406" width="20" height="9.7" fill="rgb(135,0,0)"/><rect x="916.8" y="1415.1" width="20" height="9.7" fill="rgb(151,0,0)"/><rect x="916.8" y="1424.2" width="20" height="9.7" fill="rgb(167,0,0)"/><rect x="916.8" y="1433.3" width="20" height="9.7" fill="rgb(183,0,0)"/><rect x="916.8" y="1442.4" width="20" height="9.7" fill="rgb(199,0,0)"/><rect x="916.8" y="1451.5" width="20" height="9.7" fill="rgb(215,0,0)"/><rect x="916.8" y="1460.6" width="20" height="9.7" fill="rgb(231,0,0)"/><rect x="916.8" y="1469.7" width="20" height="9.7" fill="rgb(247,0,0)"/><rect x="916.8" y="1478.8" width="20" height="9.7" fill="rgb(255,8,0)"/><rect x="916.8" y="1487.8" width="20" height="9.7" fill="rgb(255,24,0)"/><rect x="916.8" y="1496.9" width="20" height="9.7" fill="rgb(255,40,0)"/><rect x="916.8" y="1506" width="20" height="9.7" fill="rgb(255,56,0)"/><rect x="916.8" y="1515.1" width="20" height="9.7" fill="rgb(255,72,0)"/><rect x="916.8" y="1524.2" width="20" height="9.7" fill="rgb(255,88,0)"/><rect x="916.8" y="1533.3" width="20" height="9.7" fill="rgb(255,104,0)"/><rect x="916.8" y="1542.4" width="20" height="9.7" fill="rgb(255,120,0)"/><rect x="916.8" y="1551.5" width="20" height="9.7" fill="rgb(255,135,0)"/><rect x="916.8" y="1560.6" width="20" height="9.7" fill="rgb(255,151,0)"/><rect x="916.8" y="1569.7" width="20" height="9.7" fill="rgb(255,167,0)"/><rect x="916.8" y="1578.8" width="20" height="9.7" fill="rgb(255,183,0)"/><rect x="916.8" y="1587.9" width="20" height="9.7" fill="rgb(255,199,0)"/><rect x="916.8" y="1597" width="20" height="9.7" fill="rgb(255,215,0)"/><rect x="916.8" y="1606.1" width="20" height="9.7" fill="rgb(255,231,0)"/><rect x="916.8" y="1615.2" width="20" height="9.7" fill="rgb(255,247,0)"/><rect x="916.8" y="1624.2" width="20" height="9.7" fill="rgb(247,255,8)"/><rect x="916.8" y="1633.3" width="20" height="9.7" fill="rgb(231,255,24)"/><rect x="916.8" y="1642.4" width="20" height="9.7" fill="rgb(215,255,40)"/><rect x="916.8" y="1651.5" width="20" height="9.7" fill="rgb(199,255,56)"/><rect x="916.8" y="1660.6" width="20" height="9.7" fill="rgb(183,255,72)"/><rect x="916.8" y="1669.7" width="20" height="9.7" fill="rgb(167,255,88)"/><rect x="916.8" y="1678.8" width="20" height="9.7" fill="rgb(151,255,104)"/><rect x="916.8" y="1687.9" width="20" height="9.7" fill="rgb(135,255,120)"/><rect x="916.8" y="1697" width="20" height="9.7" fill="rgb(120,255,135)"/><rect x="916.8" y="1706.1" width="20" height="9.7" fill="rgb(104,255,151)"/><rect x="916.8" y="1715.2" width="20" height="9.7" fill="rgb(88,255,167)"/><rect x="916.8" y="1724.3" width="20" height="9.7" fill="rgb(72,255,183)"/><rect x="916.8" y="1733.4" width="20" height="9.7" fill="rgb(56,255,199)"/><rect x="916.8" y="1742.5" width="20" height="9.7" fill="rgb(40,255,215)"/><rect x="916.8" y="1751.6" width="20" height="9.7" fill="rgb(24,255,231)"/><rect x="916.8" y="1760.7" width="20" height="9.7" fill="rgb(8,255,247)"/><rect x="916.8" y="1769.8" width="20" height="9.7" fill="rgb(0,247,255)"/><rect x="916.8" y="1778.8" width="20" height="9.7" fill="rgb(0,231,255)"/><rect x="916.8" y="1787.9" width="20" height="9.7" fill="rgb(0,215,255)"/><rect x="916.8" y="1797" width="20" height="9.7" fill="rgb(0,199,255)"/><rect x="916.8" y="1806.1" width="20" height="9.7" fill="rgb(0,183,255)"/><rect x="916.8" y="1815.2" width="20" height="9.7" fill="rgb(0,167,255)"/><rect x="916.8" y="1824.3" width="20" height="9.7" fill="rgb(0,151,255)"/><rect x="916.8" y="1833.4" width="20" height="9.7" fill="rgb(0,135,255)"/><rect x="916.8" y="1842.5" width="20" height="9.7" fill="rgb(0,120,255)"/><rect x="916.8" y="1851.6" width="20" height="9.7" fill="rgb(0,104,255)"/><rect x="916.8" y="1860.7" width="20" height="9.7" fill="rgb(0,88,255)"/><rect x="916.8" y="1869.8" width="20" height="9.7" fill="rgb(0,72,255)"/><rect x="916.8" y="1878.9" width="20" height="9.7" fill="rgb(0,56,255)"/><rect x="916.8" y="1888" width="20" height="9.7" fill="rgb(0,40,255)"/><rect x="916.8" y="1897.1" width="20" height="9.7" fill="rgb(0,24,255)"/><rect x="916.8" y="1906.2" width="20" height="9.7" fill="rgb(0,8,255)"/><rect x="916.8" y="1915.2" width="20" height="9.7" fill="rgb(0,0,247)"/><rect x="916.8" y="1924.3" width="20" height="9.7" fill="rgb(0,0,231)"/><rect x="916.8" y="1933.4" width="20" height="9.7" fill="rgb(0,0,215)"/><rect x="916.8" y="1942.5" width="20" height="9.7" fill="rgb(0,0,199)"/><rect x="916.8" y="1951.6" width="20" height="9.7" fill="rgb(0,0,183)"/><rect x="916.8" y="1960.7" width="20" height="9.7" fill="rgb(0,0,167)"/><rect x="916.8" y="1969.8" width="20" height="9.7" fill="rgb(0,0,151)"/><rect x="916.8" y="1978.9" width="20" height="9.7" fill="rgb(0,0,135)"/><rect x="916.8" y="1406" width="20" height="582" fill="none" stroke="#bdbdbd" stroke-width="1" stroke-opacity=".55"/><path d="M917.3 1464.2h5M936.3 1464.2h-5" stroke="#222" stroke-opacity=".6" stroke-width="1" fill="none"/><path d="M917.3 1522.4h5M936.3 1522.4h-5" stroke="#222" stroke-opacity=".6" stroke-width="1" fill="none"/><path d="M917.3 1580.6h5M936.3 1580.6h-5" stroke="#222" stroke-opacity=".6" stroke-width="1" fill="none"/><path d="M917.3 1638.8h5M936.3 1638.8h-5" stroke="#222" stroke-opacity=".6" stroke-width="1" fill="none"/><path d="M917.3 1697h5M936.3 1697h-5" stroke="#222" stroke-opacity=".6" stroke-width="1" fill="none"/><path d="M917.3 1755.2h5M936.3 1755.2h-5" stroke="#222" stroke-opacity=".6" stroke-width="1" fill="none"/><path d="M917.3 1813.4h5M936.3 1813.4h-5" stroke="#222" stroke-opacity=".6" stroke-width="1" fill="none"/><path d="M917.3 1871.6h5M936.3 1871.6h-5" stroke="#222" stroke-opacity=".6" stroke-width="1" fill="none"/><path d="M917.3 1929.8h5M936.3 1929.8h-5" stroke="#222" stroke-opacity=".6" stroke-width="1" fill="none"/>
<text x="325.5" y="85" class="num">14.88</text>
<text x="325.5" y="376.8" class="num">7.19</text>
<text x="323.5" y="654.3" class="num">-0.50</text>
<text x="634.7" y="85" class="num">9.29</text>
<text x="634.7" y="376.8" class="num">2.63</text>
<text x="632.7" y="654.3" class="num">-4.04</text>
<text x="944" y="85" class="num">2906</text>
<text x="944" y="376.8" class="num">1366</text>
<text x="942" y="654.3" class="num">-174</text>
<text x="302" y="44.4" class="ttl"><tspan class="sym">Δ</tspan>v/<tspan class="sym">μ</tspan>m</text>
<text x="612.5" y="44.4" class="ttl"><tspan class="sym">Δ</tspan>w/<tspan class="sym">μ</tspan>m</text>
<text x="920.5" y="43.9" class="tts">Δε<tspan class="sub" dy="8">yy</tspan><tspan dy="-8" class="sl">/</tspan>με</text>
<text x="325.5" y="752" class="num">19.89</text>
<text x="325.5" y="1043.8" class="num">9.43</text>
<text x="323.5" y="1321.3" class="num">-1.04</text>
<text x="634.7" y="752" class="num">5.14</text>
<text x="632.7" y="1043.8" class="num">-0.05</text>
<text x="632.7" y="1321.3" class="num">-5.23</text>
<text x="944" y="752" class="num">3566</text>
<text x="944" y="1043.8" class="num">1621</text>
<text x="942" y="1321.3" class="num">-324</text>
<text x="302" y="711.3" class="ttl"><tspan class="sym">Δ</tspan>v/<tspan class="sym">μ</tspan>m</text>
<text x="612.5" y="711.3" class="ttl"><tspan class="sym">Δ</tspan>w/<tspan class="sym">μ</tspan>m</text>
<text x="920.5" y="710.8" class="tts">Δε<tspan class="sub" dy="8">yy</tspan><tspan dy="-8" class="sl">/</tspan>με</text>
<text x="325.5" y="1422.3" class="num">19.41</text>
<text x="325.5" y="1713.8" class="num">8.85</text>
<text x="323.5" y="1991.3" class="num">-1.71</text>
<text x="634.7" y="1422.3" class="num">8.84</text>
<text x="632.7" y="1713.8" class="num">-0.28</text>
<text x="632.7" y="1991.3" class="num">-9.39</text>
<text x="944" y="1422.3" class="num">3281</text>
<text x="944" y="1713.8" class="num">1177</text>
<text x="942" y="1991.3" class="num">-927</text>
<text x="302" y="1381.3" class="ttl"><tspan class="sym">Δ</tspan>v/<tspan class="sym">μ</tspan>m</text>
<text x="612.5" y="1381.3" class="ttl"><tspan class="sym">Δ</tspan>w/<tspan class="sym">μ</tspan>m</text>
<text x="920.5" y="1380.8" class="tts">Δε<tspan class="sub" dy="8">yy</tspan><tspan dy="-8" class="sl">/</tspan>με</text>
<text x="19.5" y="48.2" class="pl">(a)</text>
<text x="19.5" y="715" class="pl">(b)</text>
<text x="19.5" y="1385.4" class="pl">(c)</text>
<text x="21" y="381.2" class="mmg">1 mm</text>
<text x="21" y="381.2" class="mm">1 mm</text>
<text x="19" y="1048.6" class="mmg">2 mm</text>
<text x="19" y="1048.6" class="mm">2 mm</text>
<text x="19" y="1718.6" class="mmg">3 mm</text>
<text x="19" y="1718.6" class="mm">3 mm</text>
<text x="140.5" y="615" class="sb">10 mm</text>
<rect x="156" y="629.5" width="61" height="5" rx="1.5" fill="#fff"/>
<rect x="157.5" y="631.2" width="58" height="1.6" fill="#c9c9c9"/>
<text x="144.8" y="1279" class="sb">10 mm</text>
<rect x="160" y="1294.2" width="61" height="5" rx="1.5" fill="#fff"/>
<rect x="161.5" y="1295.9" width="58" height="1.6" fill="#c9c9c9"/>
<text x="151" y="1953" class="sb">10 mm</text>
<rect x="167" y="1967.4" width="61" height="5" rx="1.5" fill="#fff"/>
<rect x="168.5" y="1969.1" width="58" height="1.6" fill="#c9c9c9"/>
</svg>
</body></html>
